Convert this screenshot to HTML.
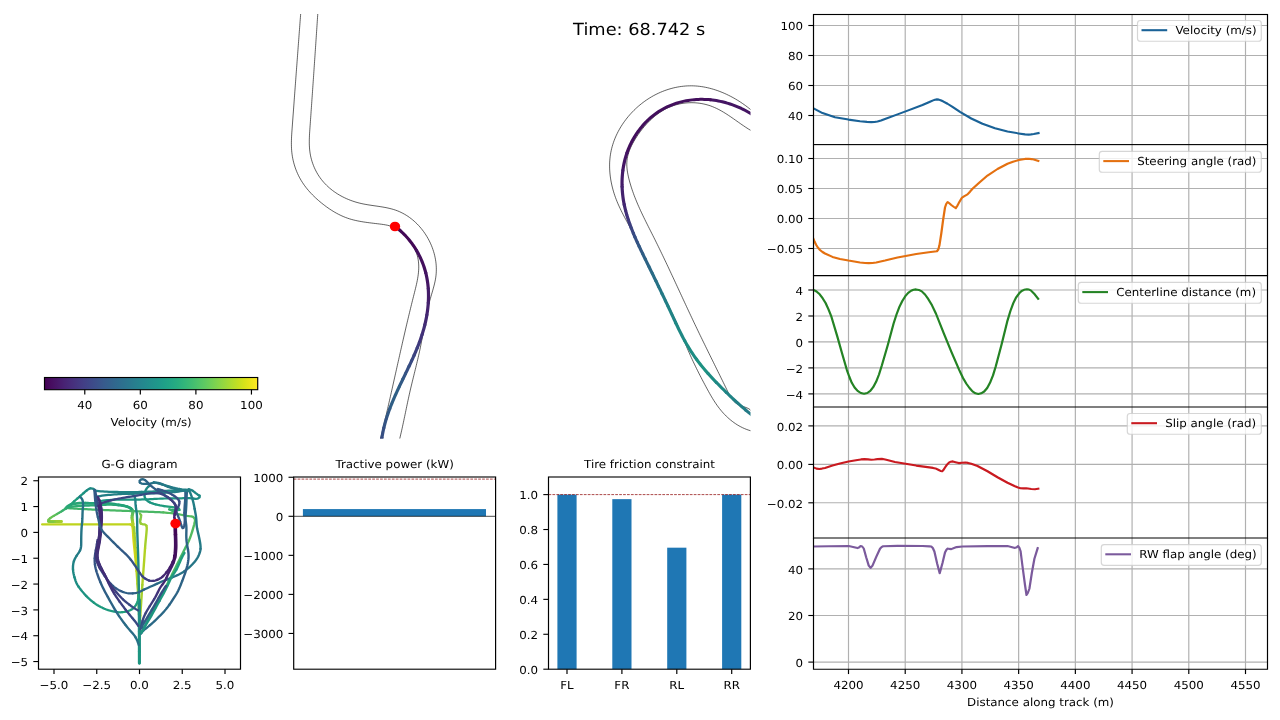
<!DOCTYPE html>
<html lang="en"><head><meta charset="utf-8"><title>Lap simulation</title>
<style>html,body{margin:0;padding:0;background:#fff;width:1280px;height:720px;overflow:hidden}svg{display:block}text{font-family:"DejaVu Sans","Liberation Sans",sans-serif;fill:#000;text-rendering:geometricPrecision}</style>
</head><body>
<svg width="1280" height="720" viewBox="0 0 1280 720">
<rect x="0" y="0" width="1280" height="720" fill="#fff"/>
<g transform="scale(1.0666667,1)">
<defs>
<linearGradient id="vir" x1="0" y1="0" x2="1" y2="0"><stop offset="0%" stop-color="#440154"/><stop offset="3.12%" stop-color="#470d60"/><stop offset="6.25%" stop-color="#48186a"/><stop offset="9.38%" stop-color="#482374"/><stop offset="12.5%" stop-color="#472d7b"/><stop offset="15.62%" stop-color="#453781"/><stop offset="18.75%" stop-color="#424086"/><stop offset="21.88%" stop-color="#3e4989"/><stop offset="25%" stop-color="#3b528b"/><stop offset="28.12%" stop-color="#375b8d"/><stop offset="31.25%" stop-color="#33638d"/><stop offset="34.38%" stop-color="#2f6b8e"/><stop offset="37.5%" stop-color="#2c728e"/><stop offset="40.62%" stop-color="#297a8e"/><stop offset="43.75%" stop-color="#26828e"/><stop offset="46.88%" stop-color="#23898e"/><stop offset="50%" stop-color="#21918c"/><stop offset="53.12%" stop-color="#1f988b"/><stop offset="56.25%" stop-color="#1fa088"/><stop offset="59.38%" stop-color="#22a785"/><stop offset="62.5%" stop-color="#28ae80"/><stop offset="65.62%" stop-color="#32b67a"/><stop offset="68.75%" stop-color="#3fbc73"/><stop offset="71.88%" stop-color="#4ec36b"/><stop offset="75%" stop-color="#5ec962"/><stop offset="78.12%" stop-color="#70cf57"/><stop offset="81.25%" stop-color="#84d44b"/><stop offset="84.38%" stop-color="#98d83e"/><stop offset="87.5%" stop-color="#addc30"/><stop offset="90.62%" stop-color="#c2df23"/><stop offset="93.75%" stop-color="#d8e219"/><stop offset="96.88%" stop-color="#ece51b"/><stop offset="100%" stop-color="#fde725"/></linearGradient>
<clipPath id="cpL"><rect x="245.62" y="14" width="187.5" height="424.5"/></clipPath>
<clipPath id="cpR"><rect x="515.62" y="14" width="187.97" height="424.5"/></clipPath>
<clipPath id="cpGG"><rect x="36.09" y="477" width="189.38" height="192"/></clipPath>
<clipPath id="cpA0"><rect x="762.66" y="14.5" width="425.62" height="130.1"/></clipPath>
<clipPath id="cpA1"><rect x="762.66" y="144.6" width="425.62" height="131"/></clipPath>
<clipPath id="cpA2"><rect x="762.66" y="275.6" width="425.62" height="131.4"/></clipPath>
<clipPath id="cpA3"><rect x="762.66" y="407" width="425.62" height="131"/></clipPath>
<clipPath id="cpA4"><rect x="762.66" y="538" width="425.62" height="131.2"/></clipPath>
</defs>
<text x="599.25" y="35" font-size="16.67" text-anchor="middle" >Time: 68.742 s</text>
<g clip-path="url(#cpL)">
<polyline points="281.91,13.5 281.76,15.51 281.62,17.53 281.48,19.55 281.33,21.56 281.19,23.57 281.05,25.59 280.91,27.6 280.77,29.61 280.62,31.62 280.48,33.63 280.34,35.65 280.2,37.66 280.06,39.67 279.92,41.68 279.77,43.68 279.63,45.69 279.49,47.7 279.35,49.71 279.21,51.72 279.07,53.73 278.93,55.74 278.79,57.74 278.65,59.75 278.51,61.76 278.37,63.76 278.23,65.77 278.08,67.78 277.94,69.79 277.8,71.79 277.66,73.8 277.52,75.81 277.38,77.81 277.24,79.82 277.1,81.83 276.96,83.84 276.82,85.84 276.68,87.85 276.54,89.86 276.4,91.87 276.26,93.88 276.12,95.88 275.98,97.89 275.84,99.9 275.7,101.91 275.57,103.92 275.43,105.93 275.29,107.94 275.15,109.95 275.01,111.97 274.87,113.98 274.73,115.99 274.59,118 274.45,120.02 274.31,122.03 274.17,124.04 274.03,126.06 273.89,128.08 273.75,130.09 273.61,132.11 273.49,134.13 273.38,136.14 273.29,138.16 273.23,140.17 273.19,142.18 273.18,144.2 273.22,146.2 273.29,148.21 273.41,150.21 273.57,152.22 273.8,154.21 274.07,156.2 274.4,158.19 274.79,160.16 275.23,162.13 275.72,164.08 276.27,166.01 276.86,167.93 277.51,169.83 278.21,171.71 278.97,173.56 279.77,175.38 280.62,177.18 281.53,178.95 282.48,180.69 283.48,182.39 284.53,184.06 285.62,185.7 286.75,187.3 287.93,188.88 289.14,190.43 290.39,191.94 291.67,193.43 292.99,194.88 294.34,196.31 295.71,197.71 297.12,199.08 298.54,200.43 299.99,201.74 301.46,203.04 302.95,204.3 304.46,205.54 305.98,206.75 307.53,207.93 309.09,209.07 310.68,210.18 312.28,211.24 313.9,212.27 315.54,213.26 317.2,214.2 318.88,215.09 320.58,215.94 322.3,216.74 324.03,217.48 325.79,218.17 327.57,218.8 329.37,219.37 331.19,219.9 333.02,220.37 334.87,220.81 336.73,221.2 338.6,221.56 340.48,221.9 342.37,222.2 344.27,222.49 346.17,222.75 348.07,223.01 349.98,223.25 351.88,223.5 353.79,223.74 355.69,223.98 357.59,224.24 359.47,224.52 361.33,224.85 363.17,225.23 364.97,225.69 366.74,226.22 368.46,226.86 370.13,227.61 371.74,228.48 373.3,229.47 374.81,230.57 376.27,231.78 377.68,233.08 379.05,234.47 380.37,235.94 381.66,237.48 382.91,239.08 384.11,240.74 385.26,242.46 386.35,244.22 387.37,246.01 388.31,247.84 389.17,249.7 389.93,251.58 390.59,253.46 391.15,255.36 391.61,257.27 391.97,259.19 392.24,261.11 392.43,263.05 392.54,264.98 392.57,266.93 392.54,268.88 392.44,270.84 392.28,272.8 392.07,274.76 391.81,276.73 391.5,278.71 391.16,280.68 390.78,282.66 390.38,284.64 389.95,286.62 389.5,288.61 389.04,290.59 388.57,292.57 388.1,294.55 387.63,296.53 387.16,298.51 386.7,300.49 386.24,302.47 385.78,304.45 385.33,306.42 384.87,308.4 384.42,310.37 383.98,312.34 383.53,314.31 383.09,316.28 382.65,318.25 382.21,320.22 381.77,322.19 381.34,324.16 380.9,326.12 380.47,328.09 380.04,330.05 379.62,332.02 379.19,333.98 378.77,335.95 378.34,337.91 377.92,339.87 377.5,341.83 377.08,343.8 376.67,345.76 376.25,347.72 375.83,349.68 375.42,351.64 375,353.6 374.59,355.56 374.18,357.52 373.77,359.47 373.36,361.43 372.94,363.39 372.53,365.35 372.12,367.31 371.71,369.27 371.3,371.23 370.89,373.19 370.48,375.15 370.07,377.1 369.66,379.06 369.25,381.02 368.84,382.98 368.43,384.94 368.02,386.9 367.61,388.86 367.19,390.82 366.78,392.78 366.36,394.75 365.95,396.71 365.53,398.67 365.11,400.63 364.7,402.6 364.28,404.56 363.86,406.53 363.43,408.49 363.01,410.46 362.58,412.42 362.16,414.39 361.73,416.36 361.3,418.33 360.87,420.3 360.43,422.27 360,424.24 359.56,426.21 359.12,428.19 358.68,430.16 358.23,432.14 357.79,434.11 357.34,436.09 356.88,438.07 356.43,440.05" fill="none" stroke="#000" stroke-width="0.6" stroke-linejoin="round" stroke-linecap="butt" />
<polyline points="297.93,13.49 297.81,15.52 297.68,17.54 297.56,19.56 297.43,21.57 297.31,23.59 297.18,25.6 297.06,27.62 296.93,29.63 296.8,31.64 296.68,33.65 296.55,35.66 296.43,37.66 296.3,39.67 296.17,41.67 296.05,43.68 295.92,45.68 295.79,47.68 295.67,49.69 295.54,51.69 295.41,53.69 295.29,55.69 295.16,57.69 295.03,59.69 294.9,61.68 294.78,63.68 294.65,65.68 294.52,67.68 294.39,69.68 294.26,71.67 294.13,73.67 294.01,75.67 293.88,77.67 293.75,79.66 293.62,81.66 293.49,83.66 293.36,85.66 293.23,87.66 293.1,89.66 292.97,91.66 292.84,93.66 292.71,95.66 292.58,97.66 292.44,99.66 292.31,101.66 292.18,103.67 292.05,105.67 291.92,107.68 291.79,109.68 291.65,111.69 291.52,113.7 291.39,115.71 291.26,117.72 291.12,119.73 290.99,121.74 290.86,123.76 290.72,125.77 290.59,127.79 290.46,129.81 290.33,131.83 290.21,133.85 290.11,135.87 290.04,137.89 289.98,139.9 289.97,141.92 289.98,143.93 290.05,145.93 290.16,147.93 290.32,149.93 290.54,151.92 290.83,153.9 291.18,155.88 291.59,157.84 292.07,159.79 292.61,161.72 293.21,163.63 293.87,165.51 294.59,167.37 295.37,169.2 296.21,171 297.1,172.76 298.05,174.48 299.06,176.16 300.12,177.8 301.23,179.39 302.39,180.94 303.61,182.44 304.87,183.9 306.17,185.31 307.52,186.68 308.91,188 310.34,189.27 311.82,190.5 313.33,191.68 314.87,192.82 316.45,193.91 318.06,194.95 319.7,195.94 321.37,196.89 323.07,197.78 324.79,198.63 326.54,199.43 328.31,200.19 330.1,200.89 331.91,201.54 333.73,202.15 335.58,202.7 337.43,203.21 339.3,203.66 341.18,204.08 343.06,204.45 344.95,204.8 346.85,205.12 348.75,205.43 350.64,205.72 352.54,206.01 354.43,206.31 356.31,206.61 358.19,206.93 360.05,207.27 361.9,207.64 363.74,208.05 365.56,208.5 367.36,208.99 369.14,209.54 370.9,210.16 372.63,210.84 374.33,211.59 376.01,212.41 377.66,213.3 379.28,214.25 380.87,215.26 382.43,216.34 383.95,217.47 385.44,218.66 386.89,219.9 388.31,221.2 389.69,222.55 391.04,223.94 392.34,225.39 393.6,226.87 394.82,228.41 396,229.98 397.14,231.59 398.23,233.24 399.27,234.93 400.27,236.65 401.22,238.4 402.12,240.18 402.98,241.99 403.78,243.82 404.53,245.68 405.22,247.56 405.86,249.47 406.45,251.39 406.98,253.32 407.45,255.27 407.87,257.24 408.22,259.21 408.52,261.19 408.75,263.18 408.92,265.18 409.02,267.18 409.07,269.17 409.04,271.17 408.95,273.17 408.79,275.16 408.56,277.14 408.27,279.12 407.92,281.09 407.51,283.06 407.07,285.02 406.59,286.97 406.08,288.93 405.56,290.88 405.03,292.83 404.49,294.78 403.96,296.73 403.44,298.69 402.94,300.64 402.46,302.6 402,304.56 401.56,306.52 401.13,308.48 400.72,310.45 400.32,312.41 399.94,314.38 399.56,316.35 399.2,318.32 398.84,320.29 398.49,322.26 398.15,324.23 397.81,326.2 397.48,328.17 397.14,330.14 396.81,332.11 396.48,334.08 396.14,336.06 395.8,338.03 395.46,340 395.11,341.96 394.76,343.93 394.39,345.9 394.02,347.86 393.64,349.83 393.24,351.79 392.84,353.75 392.42,355.71 392,357.67 391.58,359.63 391.14,361.59 390.7,363.54 390.26,365.5 389.81,367.45 389.36,369.41 388.91,371.37 388.46,373.32 388.01,375.28 387.56,377.23 387.1,379.19 386.66,381.14 386.21,383.1 385.77,385.05 385.33,387.01 384.9,388.97 384.47,390.93 384.06,392.89 383.64,394.85 383.24,396.81 382.84,398.78 382.44,400.74 382.05,402.7 381.66,404.67 381.28,406.63 380.9,408.6 380.51,410.56 380.13,412.53 379.75,414.49 379.37,416.46 378.98,418.42 378.59,420.39 378.2,422.35 377.81,424.32 377.41,426.28 377.01,428.24 376.6,430.21 376.19,432.17 375.76,434.13 375.33,436.09 374.9,438.05 374.45,440" fill="none" stroke="#000" stroke-width="0.6" stroke-linejoin="round" stroke-linecap="butt" />
</g>
<g clip-path="url(#cpL)">
<polyline points="370.28,226.37 371.8,227.61 373.29,228.89 374.75,230.21" fill="none" stroke="#430f5d" stroke-width="3" stroke-linejoin="round" stroke-linecap="round" />
<polyline points="374.75,230.21 376.18,231.57 377.57,232.97 378.93,234.4 380.25,235.87 381.54,237.38 382.79,238.91 384,240.48 385.18,242.08 386.33,243.71 387.43,245.37 388.5,247.05 389.52,248.76 390.51,250.5" fill="none" stroke="#420856" stroke-width="3" stroke-linejoin="round" stroke-linecap="round" />
<polyline points="390.51,250.5 391.46,252.25 392.37,254.03 393.24,255.84 394.07,257.66 394.85,259.5 395.6,261.36 396.3,263.24 396.96,265.13 397.57,267.03 398.14,268.95 398.67,270.88 399.15,272.82" fill="none" stroke="#430f5d" stroke-width="3" stroke-linejoin="round" stroke-linecap="round" />
<polyline points="399.15,272.82 399.59,274.77 399.98,276.74 400.34,278.71 400.65,280.68 400.92,282.67 401.15,284.66 401.34,286.66 401.49,288.67" fill="none" stroke="#441563" stroke-width="3" stroke-linejoin="round" stroke-linecap="round" />
<polyline points="401.49,288.67 401.6,290.68 401.68,292.69 401.71,294.7 401.72,296.72 401.68,298.74 401.61,300.77 401.51,302.79" fill="none" stroke="#441c69" stroke-width="3" stroke-linejoin="round" stroke-linecap="round" />
<polyline points="401.51,302.79 401.37,304.81 401.2,306.83 401,308.85 400.76,310.86 400.49,312.88 400.2,314.89" fill="none" stroke="#44226e" stroke-width="3" stroke-linejoin="round" stroke-linecap="round" />
<polyline points="400.2,314.89 399.87,316.89 399.51,318.89 399.13,320.88 398.71,322.87 398.27,324.85" fill="none" stroke="#432872" stroke-width="3" stroke-linejoin="round" stroke-linecap="round" />
<polyline points="398.27,324.85 397.81,326.82 397.31,328.78 396.8,330.74 396.25,332.68 395.69,334.61" fill="none" stroke="#422e76" stroke-width="3" stroke-linejoin="round" stroke-linecap="round" />
<polyline points="395.69,334.61 395.1,336.54 394.49,338.45 393.86,340.36 393.21,342.26" fill="none" stroke="#41337a" stroke-width="3" stroke-linejoin="round" stroke-linecap="round" />
<polyline points="393.21,342.26 392.54,344.15 391.85,346.03 391.15,347.91" fill="none" stroke="#3f3a7d" stroke-width="3" stroke-linejoin="round" stroke-linecap="round" />
<polyline points="391.15,347.91 390.43,349.78 389.7,351.65 388.95,353.51 388.19,355.36" fill="none" stroke="#3d407f" stroke-width="3" stroke-linejoin="round" stroke-linecap="round" />
<polyline points="388.19,355.36 387.42,357.21 386.64,359.06 385.85,360.9" fill="none" stroke="#3b4581" stroke-width="3" stroke-linejoin="round" stroke-linecap="round" />
<polyline points="385.85,360.9 385.06,362.74 384.25,364.57 383.44,366.4" fill="none" stroke="#384a82" stroke-width="3" stroke-linejoin="round" stroke-linecap="round" />
<polyline points="383.44,366.4 382.62,368.23 381.8,370.06 380.98,371.89 380.15,373.72" fill="none" stroke="#364f83" stroke-width="3" stroke-linejoin="round" stroke-linecap="round" />
<polyline points="380.15,373.72 379.33,375.54 378.5,377.37 377.67,379.19" fill="none" stroke="#345484" stroke-width="3" stroke-linejoin="round" stroke-linecap="round" />
<polyline points="377.67,379.19 376.85,381.02 376.03,382.84 375.21,384.67 374.4,386.5" fill="none" stroke="#325985" stroke-width="3" stroke-linejoin="round" stroke-linecap="round" />
<polyline points="374.4,386.5 373.59,388.33 372.79,390.16 372,392 371.21,393.84 370.44,395.68 369.68,397.53 368.93,399.38 368.19,401.24 367.47,403.1 366.76,404.97 366.07,406.85 365.4,408.73" fill="none" stroke="#2f5e85" stroke-width="3" stroke-linejoin="round" stroke-linecap="round" />
<polyline points="365.4,408.73 364.74,410.62 364.1,412.51 363.49,414.42 362.89,416.33 362.32,418.25" fill="none" stroke="#325985" stroke-width="3" stroke-linejoin="round" stroke-linecap="round" />
<polyline points="362.32,418.25 361.77,420.18 361.24,422.11 360.74,424.06 360.26,426.02 359.82,427.99" fill="none" stroke="#345484" stroke-width="3" stroke-linejoin="round" stroke-linecap="round" />
<polyline points="359.82,427.99 359.4,429.97 359.01,431.96 358.65,433.96 358.32,435.98 358.03,438" fill="none" stroke="#364f83" stroke-width="3" stroke-linejoin="round" stroke-linecap="round" />
<polyline points="358.03,438 357.76,440.04" fill="none" stroke="#384a82" stroke-width="3" stroke-linejoin="round" stroke-linecap="round" />
</g>
<circle cx="370.31" cy="226.5" r="4.85" fill="#ff0000"/>
<g clip-path="url(#cpR)">
<polyline points="704.88,110.64 703.48,109.39 702.05,108.16 700.6,106.95 699.11,105.76 697.6,104.59 696.06,103.45 694.5,102.32 692.92,101.23 691.31,100.16 689.68,99.12 688.03,98.1 686.35,97.12 684.66,96.17 682.95,95.25 681.23,94.37 679.49,93.52 677.73,92.71 675.96,91.94 674.17,91.2 672.37,90.51 670.57,89.86 668.75,89.25 666.92,88.69 665.08,88.18 663.24,87.71 661.39,87.29 659.54,86.92 657.68,86.6 655.81,86.33 653.95,86.12 652.08,85.96 650.21,85.86 648.35,85.81 646.48,85.83 644.62,85.89 642.76,86.01 640.9,86.19 639.05,86.41 637.2,86.69 635.37,87.03 633.53,87.41 631.71,87.84 629.9,88.33 628.1,88.86 626.31,89.45 624.53,90.08 622.76,90.76 621.01,91.49 619.27,92.26 617.55,93.08 615.85,93.94 614.16,94.85 612.49,95.81 610.85,96.81 609.22,97.85 607.61,98.93 606.03,100.05 604.46,101.22 602.93,102.42 601.41,103.67 599.93,104.95 598.47,106.26 597.04,107.61 595.63,109 594.26,110.42 592.92,111.88 591.61,113.36 590.33,114.88 589.08,116.43 587.87,118 586.7,119.61 585.56,121.24 584.46,122.89 583.4,124.58 582.37,126.28 581.39,128.01 580.45,129.77 579.55,131.54 578.69,133.34 577.87,135.15 577.11,136.98 576.38,138.84 575.71,140.7 575.08,142.59 574.5,144.48 573.96,146.4 573.48,148.32 573.05,150.26 572.68,152.21 572.35,154.17 572.08,156.13 571.87,158.11 571.7,160.09 571.58,162.08 571.52,164.07 571.5,166.07 571.53,168.07 571.6,170.07 571.73,172.07 571.89,174.07 572.1,176.07 572.36,178.07 572.65,180.06 572.99,182.05 573.37,184.03 573.78,186 574.24,187.96 574.73,189.92 575.26,191.86 575.83,193.8 576.42,195.72 577.06,197.62 577.72,199.51 578.42,201.39 579.15,203.25 579.9,205.09 580.68,206.92 581.49,208.74 582.31,210.55 583.15,212.35 584.01,214.15 584.88,215.93 585.76,217.71 586.65,219.49 587.55,221.26 588.45,223.03 589.35,224.8 590.26,226.57 591.16,228.34 592.05,230.11 592.94,231.89 593.81,233.67 594.68,235.46 595.54,237.25 596.39,239.05 597.23,240.85 598.06,242.66 598.89,244.47 599.71,246.28 600.52,248.09 601.34,249.91 602.14,251.73 602.95,253.55 603.75,255.37 604.55,257.19 605.35,259.02 606.15,260.84 606.95,262.66 607.75,264.48 608.55,266.31 609.36,268.13 610.16,269.95 610.98,271.76 611.79,273.58 612.61,275.39 613.44,277.2 614.26,279.01 615.09,280.82 615.92,282.63 616.75,284.43 617.59,286.24 618.42,288.05 619.26,289.85 620.1,291.65 620.94,293.46 621.78,295.26 622.62,297.06 623.46,298.87 624.29,300.67 625.13,302.47 625.97,304.28 626.8,306.08 627.64,307.89 628.47,309.69 629.3,311.5 630.13,313.31 630.95,315.12 631.77,316.93 632.58,318.75 633.38,320.57 634.17,322.39 634.95,324.22 635.72,326.06 636.47,327.9 637.21,329.75 637.93,331.61 638.64,333.47 639.35,335.33 640.05,337.2 640.75,339.07 641.45,340.94 642.15,342.8 642.86,344.66 643.58,346.52 644.31,348.37 645.06,350.22 645.81,352.07 646.57,353.9 647.34,355.74 648.12,357.57 648.91,359.4 649.71,361.22 650.51,363.04 651.33,364.85 652.15,366.66 652.98,368.47 653.82,370.27 654.66,372.07 655.51,373.87 656.37,375.66 657.24,377.45 658.11,379.24 658.98,381.03 659.87,382.81 660.75,384.59 661.65,386.36 662.54,388.14 663.45,389.91 664.36,391.67 665.28,393.43 666.22,395.18 667.17,396.92 668.14,398.64 669.14,400.35 670.16,402.04 671.2,403.7 672.28,405.35 673.39,406.98 674.53,408.57 675.71,410.14 676.93,411.68 678.19,413.19 679.49,414.65 680.82,416.08 682.19,417.47 683.6,418.82 685.04,420.12 686.52,421.37 688.04,422.57 689.59,423.71 691.17,424.8 692.79,425.83 694.44,426.79 696.13,427.69 697.84,428.53 699.6,429.29 701.38,429.98 703.19,430.6 705.04,431.14" fill="none" stroke="#000" stroke-width="0.6" stroke-linejoin="round" stroke-linecap="butt" />
<polyline points="705.01,131.13 703.42,130.14 701.84,129.11 700.27,128.05 698.71,126.96 697.15,125.84 695.59,124.71 694.03,123.55 692.48,122.39 690.92,121.22 689.37,120.04 687.8,118.87 686.23,117.71 684.66,116.56 683.07,115.43 681.48,114.31 679.87,113.23 678.25,112.17 676.62,111.15 674.97,110.17 673.3,109.23 671.61,108.34 669.9,107.51 668.17,106.73 666.42,106.02 664.64,105.37 662.84,104.8 661.01,104.29 659.17,103.86 657.31,103.49 655.44,103.19 653.56,102.96 651.67,102.81 649.77,102.72 647.88,102.7 645.98,102.75 644.09,102.87 642.21,103.06 640.34,103.32 638.48,103.65 636.63,104.05 634.8,104.52 633,105.05 631.22,105.66 629.46,106.34 627.73,107.08 626.03,107.89 624.36,108.77 622.72,109.71 621.1,110.7 619.52,111.76 617.96,112.87 616.44,114.03 614.94,115.24 613.47,116.51 612.03,117.82 610.62,119.17 609.24,120.57 607.89,122.01 606.57,123.49 605.28,125 604.02,126.54 602.79,128.12 601.59,129.73 600.42,131.37 599.29,133.03 598.18,134.71 597.11,136.41 596.06,138.14 595.05,139.88 594.08,141.64 593.16,143.42 592.28,145.21 591.46,147.02 590.71,148.85 590.02,150.7 589.41,152.56 588.88,154.44 588.43,156.34 588.08,158.26 587.83,160.2 587.68,162.15 587.63,164.12 587.67,166.1 587.8,168.09 588,170.09 588.28,172.09 588.61,174.09 588.99,176.09 589.42,178.08 589.89,180.06 590.39,182.04 590.92,183.99 591.47,185.94 592.04,187.88 592.64,189.8 593.26,191.71 593.9,193.61 594.55,195.5 595.23,197.38 595.93,199.26 596.64,201.12 597.37,202.98 598.11,204.82 598.87,206.66 599.63,208.5 600.42,210.33 601.21,212.15 602.01,213.97 602.82,215.78 603.64,217.59 604.47,219.39 605.3,221.19 606.14,222.99 606.99,224.79 607.83,226.59 608.68,228.38 609.53,230.17 610.38,231.97 611.23,233.76 612.08,235.56 612.93,237.35 613.77,239.15 614.61,240.95 615.45,242.75 616.28,244.56 617.11,246.36 617.94,248.17 618.76,249.98 619.58,251.78 620.4,253.6 621.22,255.41 622.04,257.22 622.85,259.04 623.66,260.85 624.47,262.67 625.27,264.49 626.08,266.31 626.88,268.13 627.68,269.95 628.48,271.77 629.28,273.59 630.08,275.42 630.88,277.24 631.67,279.06 632.47,280.89 633.26,282.71 634.06,284.54 634.85,286.37 635.64,288.19 636.44,290.02 637.23,291.85 638.02,293.67 638.82,295.5 639.61,297.33 640.4,299.15 641.2,300.98 641.99,302.81 642.79,304.63 643.58,306.46 644.38,308.28 645.18,310.11 645.98,311.93 646.78,313.76 647.58,315.58 648.39,317.4 649.19,319.22 650,321.05 650.81,322.87 651.62,324.68 652.43,326.5 653.25,328.32 654.06,330.14 654.88,331.95 655.7,333.77 656.52,335.58 657.35,337.39 658.17,339.2 659,341.02 659.83,342.83 660.66,344.64 661.49,346.45 662.32,348.25 663.15,350.06 663.98,351.87 664.81,353.67 665.65,355.48 666.48,357.29 667.31,359.09 668.15,360.89 668.98,362.7 669.82,364.5 670.65,366.3 671.48,368.11 672.32,369.91 673.15,371.71 673.98,373.51 674.81,375.31 675.64,377.11 676.47,378.91 677.3,380.71 678.13,382.51 678.96,384.31 679.78,386.11 680.61,387.91 681.43,389.71 682.25,391.51 683.08,393.3 683.94,395.07 684.86,396.79 685.86,398.45 686.97,400.02 688.21,401.49 689.62,402.83 691.2,404.03 693,405.07 695.02,405.94 697.17,406.71 699.31,407.48 701.31,408.36 703.02,409.45 704.31,410.86 705.03,412.69 705.06,415.06" fill="none" stroke="#000" stroke-width="0.6" stroke-linejoin="round" stroke-linecap="butt" />
</g>
<g clip-path="url(#cpR)">
<polyline points="704.96,114.26 703.35,113.21 701.72,112.19 700.06,111.21 698.39,110.26 696.7,109.35 695,108.47 693.28,107.63 691.54,106.82 689.79,106.06 688.03,105.33 686.25,104.64 684.46,103.99 682.65,103.38 680.84,102.81 679.01,102.28 677.18,101.79 675.34,101.35 673.48,100.95 671.62,100.59 669.75,100.28 667.88,100.01 666,99.78" fill="none" stroke="#441563" stroke-width="3" stroke-linejoin="round" stroke-linecap="round" />
<polyline points="666,99.78 664.11,99.6 662.22,99.47 660.33,99.39 658.44,99.35 656.54,99.36 654.64,99.41 652.75,99.52 650.85,99.67 648.96,99.87 647.08,100.12 645.2,100.42 643.34,100.76 641.48,101.15 639.63,101.59 637.79,102.08 635.97,102.62 634.16,103.21 632.37,103.85 630.6,104.53 628.84,105.27 627.11,106.05 625.4,106.89 623.71,107.77 622.04,108.71 620.4,109.69 618.78,110.72 617.2,111.81 615.64,112.94 614.11,114.12 612.61,115.34 611.14,116.61 609.7,117.92 608.3,119.27 606.92,120.66 605.58,122.09 604.27,123.56 603,125.06 601.76,126.6 600.55,128.17 599.39,129.78 598.26,131.41 597.16,133.08 596.11,134.77 595.09,136.49 594.11,138.23 593.17,140 592.28,141.79 591.42,143.6 590.61,145.44 589.84,147.29 589.11,149.16 588.42,151.04 587.78,152.94" fill="none" stroke="#430f5d" stroke-width="3" stroke-linejoin="round" stroke-linecap="round" />
<polyline points="587.78,152.94 587.19,154.86 586.63,156.79 586.12,158.73 585.65,160.68 585.22,162.64 584.84,164.61 584.49,166.59 584.19,168.58 583.92,170.57" fill="none" stroke="#441563" stroke-width="3" stroke-linejoin="round" stroke-linecap="round" />
<polyline points="583.92,170.57 583.7,172.58 583.51,174.58 583.37,176.59 583.26,178.6 583.19,180.62 583.16,182.63 583.16,184.65 583.21,186.67" fill="none" stroke="#441c69" stroke-width="3" stroke-linejoin="round" stroke-linecap="round" />
<polyline points="583.21,186.67 583.29,188.68 583.41,190.69 583.56,192.7 583.75,194.7 583.97,196.7 584.23,198.69 584.52,200.68 584.85,202.65 585.21,204.62" fill="none" stroke="#44226e" stroke-width="3" stroke-linejoin="round" stroke-linecap="round" />
<polyline points="585.21,204.62 585.6,206.58 586.02,208.54 586.48,210.48" fill="none" stroke="#432872" stroke-width="3" stroke-linejoin="round" stroke-linecap="round" />
<polyline points="586.48,210.48 586.96,212.42 587.46,214.36" fill="none" stroke="#422e76" stroke-width="3" stroke-linejoin="round" stroke-linecap="round" />
<polyline points="587.46,214.36 588,216.28 588.56,218.21 589.14,220.12" fill="none" stroke="#41337a" stroke-width="3" stroke-linejoin="round" stroke-linecap="round" />
<polyline points="589.14,220.12 589.74,222.03 590.37,223.93" fill="none" stroke="#3f3a7d" stroke-width="3" stroke-linejoin="round" stroke-linecap="round" />
<polyline points="590.37,223.93 591.02,225.83 591.69,227.72" fill="none" stroke="#3d407f" stroke-width="3" stroke-linejoin="round" stroke-linecap="round" />
<polyline points="591.69,227.72 592.37,229.6 593.08,231.48 593.8,233.36" fill="none" stroke="#3b4581" stroke-width="3" stroke-linejoin="round" stroke-linecap="round" />
<polyline points="593.8,233.36 594.53,235.23 595.28,237.09" fill="none" stroke="#384a82" stroke-width="3" stroke-linejoin="round" stroke-linecap="round" />
<polyline points="595.28,237.09 596.04,238.96 596.82,240.81 597.6,242.66" fill="none" stroke="#364f83" stroke-width="3" stroke-linejoin="round" stroke-linecap="round" />
<polyline points="597.6,242.66 598.4,244.51 599.2,246.36" fill="none" stroke="#345484" stroke-width="3" stroke-linejoin="round" stroke-linecap="round" />
<polyline points="599.2,246.36 600.01,248.2 600.83,250.04 601.65,251.87 602.48,253.7" fill="none" stroke="#325985" stroke-width="3" stroke-linejoin="round" stroke-linecap="round" />
<polyline points="602.48,253.7 603.31,255.53 604.14,257.35 604.97,259.18" fill="none" stroke="#2f5e85" stroke-width="3" stroke-linejoin="round" stroke-linecap="round" />
<polyline points="604.97,259.18 605.8,261 606.63,262.81 607.46,264.63 608.29,266.44" fill="none" stroke="#2d6385" stroke-width="3" stroke-linejoin="round" stroke-linecap="round" />
<polyline points="608.29,266.44 609.12,268.25 609.95,270.06 610.78,271.87 611.6,273.68" fill="none" stroke="#2b6886" stroke-width="3" stroke-linejoin="round" stroke-linecap="round" />
<polyline points="611.6,273.68 612.43,275.49 613.25,277.29 614.07,279.1 614.9,280.91" fill="none" stroke="#296c86" stroke-width="3" stroke-linejoin="round" stroke-linecap="round" />
<polyline points="614.9,280.91 615.72,282.71 616.54,284.52 617.35,286.32" fill="none" stroke="#277186" stroke-width="3" stroke-linejoin="round" stroke-linecap="round" />
<polyline points="617.35,286.32 618.17,288.13 618.99,289.94 619.8,291.75 620.62,293.56" fill="none" stroke="#257586" stroke-width="3" stroke-linejoin="round" stroke-linecap="round" />
<polyline points="620.62,293.56 621.43,295.37 622.24,297.18 623.05,298.99 623.85,300.81" fill="none" stroke="#247a86" stroke-width="3" stroke-linejoin="round" stroke-linecap="round" />
<polyline points="623.85,300.81 624.66,302.63 625.47,304.45 626.27,306.27" fill="none" stroke="#227e85" stroke-width="3" stroke-linejoin="round" stroke-linecap="round" />
<polyline points="626.27,306.27 627.07,308.1 627.87,309.93 628.67,311.76 629.47,313.6 630.26,315.44 631.06,317.27 631.86,319.11 632.67,320.95 633.47,322.78" fill="none" stroke="#208385" stroke-width="3" stroke-linejoin="round" stroke-linecap="round" />
<polyline points="633.47,322.78 634.29,324.61 635.1,326.44 635.93,328.27 636.76,330.09 637.59,331.9 638.44,333.71 639.3,335.51 640.18,337.3 641.06,339.08 641.97,340.85" fill="none" stroke="#1f8884" stroke-width="3" stroke-linejoin="round" stroke-linecap="round" />
<polyline points="641.97,340.85 642.89,342.6 643.83,344.35 644.78,346.08 645.76,347.8 646.75,349.5 647.76,351.19 648.78,352.87 649.83,354.54 650.89,356.19 651.97,357.83 653.08,359.46" fill="none" stroke="#1d8c83" stroke-width="3" stroke-linejoin="round" stroke-linecap="round" />
<polyline points="653.08,359.46 654.19,361.08 655.33,362.68 656.49,364.26 657.67,365.84 658.86,367.4 660.07,368.94 661.3,370.48 662.54,372 663.8,373.52" fill="none" stroke="#1d9182" stroke-width="3" stroke-linejoin="round" stroke-linecap="round" />
<polyline points="663.8,373.52 665.06,375.02 666.34,376.51 667.63,378 668.93,379.47 670.24,380.94 671.56,382.4" fill="none" stroke="#1d8c83" stroke-width="3" stroke-linejoin="round" stroke-linecap="round" />
<polyline points="671.56,382.4 672.88,383.85 674.21,385.29 675.55,386.73 676.89,388.16 678.23,389.59 679.58,391.01 680.93,392.42" fill="none" stroke="#1f8884" stroke-width="3" stroke-linejoin="round" stroke-linecap="round" />
<polyline points="680.93,392.42 682.29,393.82 683.65,395.22 685.02,396.61 686.4,397.99 687.78,399.36 689.17,400.73" fill="none" stroke="#208385" stroke-width="3" stroke-linejoin="round" stroke-linecap="round" />
<polyline points="689.17,400.73 690.57,402.09 691.97,403.43 693.39,404.77 694.81,406.1 696.23,407.41 697.67,408.72 699.12,410.02" fill="none" stroke="#227e85" stroke-width="3" stroke-linejoin="round" stroke-linecap="round" />
<polyline points="699.12,410.02 700.57,411.31 702.03,412.58 703.51,413.84 704.99,415.1" fill="none" stroke="#247a86" stroke-width="3" stroke-linejoin="round" stroke-linecap="round" />
</g>
<rect x="41.72" y="377.5" width="199.88" height="12.2" fill="url(#vir)"/>
<rect x="41.72" y="377.5" width="199.88" height="12.2" fill="none" stroke="#000" stroke-width="1.11" stroke-linejoin="miter"/>
<line x1="79.48" y1="389.7" x2="79.48" y2="394.56" stroke="#000" stroke-width="1.11" />
<text x="79.48" y="409" font-size="11.11" text-anchor="middle" >40</text>
<line x1="131.56" y1="389.7" x2="131.56" y2="394.56" stroke="#000" stroke-width="1.11" />
<text x="131.56" y="409" font-size="11.11" text-anchor="middle" >60</text>
<line x1="183.65" y1="389.7" x2="183.65" y2="394.56" stroke="#000" stroke-width="1.11" />
<text x="183.65" y="409" font-size="11.11" text-anchor="middle" >80</text>
<line x1="235.73" y1="389.7" x2="235.73" y2="394.56" stroke="#000" stroke-width="1.11" />
<text x="235.73" y="409" font-size="11.11" text-anchor="middle" >100</text>
<text x="141.66" y="426" font-size="11.11" text-anchor="middle" >Velocity (m/s)</text>
<g clip-path="url(#cpGG)">
<polyline points="39.56,524.4 42.32,524.4 45.07,524.4 47.82,524.4 50.58,524.4 53.33,524.4 56.08,524.4 58.83,524.4 61.59,524.4 64.34,524.4 67.09,524.4 69.85,524.4 72.6,524.4 75.35,524.4 78.11,524.4 80.86,524.4 83.61,524.4 86.37,524.4 89.12,524.4 91.87,524.4 94.62,524.4 97.38,524.4 100.13,524.4 102.88,524.4 105.64,524.4 108.39,524.4 111.14,524.4 113.9,524.4 116.65,524.4 119.4,524.4 122.16,524.4" fill="none" stroke="#bed31d" stroke-width="2.25" stroke-linejoin="round" stroke-linecap="round" />
<polyline points="122.16,524.4 123.76,525.51 124.32,527.54 124.58,529.67 124.73,531.75" fill="none" stroke="#cbd518" stroke-width="2.25" stroke-linejoin="round" stroke-linecap="round" />
<polyline points="124.73,531.75 124.82,533.8 124.92,535.86 125.05,537.94 125.21,540.02 125.39,542.11 125.57,544.2 125.77,546.29 125.97,548.37 126.17,550.44 126.37,552.52 126.58,554.6 126.78,556.67" fill="none" stroke="#d7d617" stroke-width="2.25" stroke-linejoin="round" stroke-linecap="round" />
<polyline points="126.78,556.67 126.98,558.74 127.17,560.82 127.35,562.89 127.53,564.97 127.7,567.05 127.86,569.13 128.02,571.21" fill="none" stroke="#cbd518" stroke-width="2.25" stroke-linejoin="round" stroke-linecap="round" />
<polyline points="128.02,571.21 128.16,573.29 128.31,575.38 128.45,577.46 128.59,579.55 128.72,581.63 128.85,583.72" fill="none" stroke="#bed31d" stroke-width="2.25" stroke-linejoin="round" stroke-linecap="round" />
<polyline points="128.85,583.72 128.99,585.8 129.12,587.88 129.25,589.97 129.39,592.05 129.51,594.14" fill="none" stroke="#b2d124" stroke-width="2.25" stroke-linejoin="round" stroke-linecap="round" />
<polyline points="129.51,594.14 129.64,596.22 129.75,598.3 129.86,600.39 129.96,602.47 130.06,604.56" fill="none" stroke="#a5cf2c" stroke-width="2.25" stroke-linejoin="round" stroke-linecap="round" />
<polyline points="130.06,604.56 130.14,606.65 130.2,608.73 130.26,610.82 130.29,612.91 130.31,615" fill="none" stroke="#99cd34" stroke-width="2.25" stroke-linejoin="round" stroke-linecap="round" />
<polyline points="125.81,527 125.89,529.09 125.98,531.18 126.09,533.26" fill="none" stroke="#99cd34" stroke-width="2.25" stroke-linejoin="round" stroke-linecap="round" />
<polyline points="126.09,533.26 126.21,535.35 126.34,537.43 126.47,539.52 126.61,541.6" fill="none" stroke="#a5cf2c" stroke-width="2.25" stroke-linejoin="round" stroke-linecap="round" />
<polyline points="126.61,541.6 126.75,543.69 126.9,545.77 127.04,547.86" fill="none" stroke="#b2d124" stroke-width="2.25" stroke-linejoin="round" stroke-linecap="round" />
<polyline points="127.04,547.86 127.18,549.94 127.32,552.03 127.46,554.11 127.6,556.2 127.73,558.28 127.86,560.37 128,562.45 128.13,564.54 128.26,566.62" fill="none" stroke="#bed31d" stroke-width="2.25" stroke-linejoin="round" stroke-linecap="round" />
<polyline points="128.26,566.62 128.38,568.71 128.51,570.79 128.63,572.88 128.75,574.96 128.87,577.05" fill="none" stroke="#b2d124" stroke-width="2.25" stroke-linejoin="round" stroke-linecap="round" />
<polyline points="128.87,577.05 128.99,579.14 129.11,581.22 129.23,583.31 129.34,585.39 129.46,587.48 129.57,589.57" fill="none" stroke="#a5cf2c" stroke-width="2.25" stroke-linejoin="round" stroke-linecap="round" />
<polyline points="129.57,589.57 129.68,591.65 129.79,593.74 129.9,595.83 130.02,597.91 130.12,600" fill="none" stroke="#99cd34" stroke-width="2.25" stroke-linejoin="round" stroke-linecap="round" />
<polyline points="45.47,521.5 47.87,521.48 50.27,521.46 52.67,521.44" fill="none" stroke="#99cd34" stroke-width="3" stroke-linejoin="round" stroke-linecap="round" />
<polyline points="52.67,521.44 55.07,521.42 57.47,521.4" fill="none" stroke="#a5cf2c" stroke-width="3" stroke-linejoin="round" stroke-linecap="round" />
<polyline points="131.16,513.5 132.25,515.2" fill="none" stroke="#72c54c" stroke-width="2.25" stroke-linejoin="round" stroke-linecap="round" />
<polyline points="132.25,515.2 132.15,517.3 131.6,519.55" fill="none" stroke="#7ec845" stroke-width="2.25" stroke-linejoin="round" stroke-linecap="round" />
<polyline points="131.6,519.55 131.32,521.74 132.03,523.62" fill="none" stroke="#8ccb3c" stroke-width="2.25" stroke-linejoin="round" stroke-linecap="round" />
<polyline points="132.03,523.62 133.74,524.3 135.73,524.35 137.25,525.53" fill="none" stroke="#99cd34" stroke-width="2.25" stroke-linejoin="round" stroke-linecap="round" />
<polyline points="137.25,525.53 137.56,527.6 137.53,529.65 137.38,531.68 137.22,533.71 137.03,535.75 136.85,537.8 136.66,539.85 136.48,541.9 136.3,543.95 136.14,546 135.99,548.05" fill="none" stroke="#a5cf2c" stroke-width="2.25" stroke-linejoin="round" stroke-linecap="round" />
<polyline points="135.99,548.05 135.84,550.1 135.7,552.15 135.57,554.19 135.44,556.24 135.3,558.29 135.17,560.33 135.03,562.38 134.88,564.43 134.74,566.47 134.59,568.52 134.45,570.57 134.3,572.62 134.16,574.67 134.01,576.72 133.87,578.76 133.73,580.81 133.59,582.86 133.45,584.91" fill="none" stroke="#b2d124" stroke-width="2.25" stroke-linejoin="round" stroke-linecap="round" />
<polyline points="133.45,584.91 133.32,586.96 133.19,589.01 133.06,591.05 132.93,593.1 132.8,595.15 132.68,597.2 132.55,599.25 132.42,601.3 132.29,603.35 132.16,605.4 132.03,607.45 131.89,609.5 131.76,611.54 131.63,613.59 131.5,615.64" fill="none" stroke="#a5cf2c" stroke-width="2.25" stroke-linejoin="round" stroke-linecap="round" />
<polyline points="131.5,615.64 131.38,617.69 131.26,619.74 131.16,621.79 131.07,623.84 130.99,625.89 130.92,627.95 130.88,630" fill="none" stroke="#99cd34" stroke-width="2.25" stroke-linejoin="round" stroke-linecap="round" />
<polyline points="62.16,508.1 64.06,508.23 65.96,508.35 67.85,508.47 69.75,508.59 71.65,508.71 73.54,508.82 75.44,508.93 77.33,509.03 79.22,509.14 81.11,509.24 83,509.34 84.89,509.44 86.78,509.53 88.67,509.62 90.56,509.71 92.45,509.8" fill="none" stroke="#40b36a" stroke-width="2.25" stroke-linejoin="round" stroke-linecap="round" />
<polyline points="92.45,509.8 94.34,509.89 96.22,509.98 98.11,510.06 100,510.15 101.88,510.23 103.77,510.31 105.66,510.39 107.55,510.47 109.44,510.55 111.32,510.62 113.21,510.7 115.1,510.78 116.99,510.85 118.88,510.93 120.77,511 122.67,511.08 124.56,511.15 126.45,511.23 128.35,511.31 130.24,511.38 132.14,511.46 134.04,511.54 135.94,511.62 137.84,511.69 139.74,511.77 141.65,511.86 143.55,511.94 145.46,512.03 147.36,512.13 149.26,512.23 151.16,512.35 153.06,512.49" fill="none" stroke="#49b765" stroke-width="2.25" stroke-linejoin="round" stroke-linecap="round" />
<polyline points="153.06,512.49 154.96,512.64 156.85,512.81 158.73,513 160.61,513.22 162.48,513.46 164.34,513.74 166.2,514.04 168.05,514.38 169.89,514.75 171.73,515.13 173.58,515.5 175.46,515.83 177.37,516.11 179.3,516.34 181.1,516.92 182.43,518.37 182.87,520.31 182.6,522.37 182.13,524.35 181.61,526.28 181.09,528.21 180.56,530.15 180.01,532.09 179.43,534.02 178.82,535.94 178.16,537.83 177.47,539.71 176.73,541.57 175.94,543.41 175.11,545.22 174.25,547.02" fill="none" stroke="#52bb5f" stroke-width="2.25" stroke-linejoin="round" stroke-linecap="round" />
<polyline points="174.25,547.02 173.38,548.82 172.5,550.61 171.64,552.41 170.78,554.21 169.93,556.02 169.09,557.83 168.26,559.64 167.41,561.45 166.57,563.26 165.72,565.07 164.87,566.88 164.03,568.68 163.18,570.49 162.33,572.3 161.49,574.1 160.64,575.91 159.8,577.72 158.95,579.53 158.11,581.34" fill="none" stroke="#49b765" stroke-width="2.25" stroke-linejoin="round" stroke-linecap="round" />
<polyline points="158.11,581.34 157.26,583.15 156.41,584.95 155.55,586.75 154.69,588.55 153.82,590.35" fill="none" stroke="#40b36a" stroke-width="2.25" stroke-linejoin="round" stroke-linecap="round" />
<polyline points="153.82,590.35 152.95,592.14 152.07,593.93 151.18,595.72 150.29,597.5 149.4,599.28 148.5,601.06" fill="none" stroke="#38b06e" stroke-width="2.25" stroke-linejoin="round" stroke-linecap="round" />
<polyline points="148.5,601.06 147.59,602.84 146.68,604.61 145.77,606.38 144.85,608.15 143.93,609.91" fill="none" stroke="#2fab73" stroke-width="2.25" stroke-linejoin="round" stroke-linecap="round" />
<polyline points="143.93,609.91 143.02,611.68 142.1,613.45 141.18,615.22 140.27,616.99 139.37,618.76" fill="none" stroke="#29a676" stroke-width="2.25" stroke-linejoin="round" stroke-linecap="round" />
<polyline points="139.37,618.76 138.46,620.54 137.57,622.32 136.67,624.1 135.78,625.88 134.88,627.66" fill="none" stroke="#24a279" stroke-width="2.25" stroke-linejoin="round" stroke-linecap="round" />
<polyline points="134.88,627.66 133.99,629.45 133.09,631.22 132.19,633" fill="none" stroke="#209e7c" stroke-width="2.25" stroke-linejoin="round" stroke-linecap="round" />
<polyline points="61.88,508 63.29,506.51 64.91,505.37 66.68,504.55 68.56,503.96 70.48,503.57 72.42,503.32 74.36,503.17 76.3,503.11 78.25,503.12 80.2,503.17" fill="none" stroke="#29a676" stroke-width="2.8" stroke-linejoin="round" stroke-linecap="round" />
<polyline points="80.2,503.17 82.14,503.23 84.09,503.29 86.04,503.33 87.98,503.34 89.93,503.33 91.87,503.32 93.82,503.3 95.76,503.29 97.71,503.31 99.65,503.36" fill="none" stroke="#24a279" stroke-width="2.8" stroke-linejoin="round" stroke-linecap="round" />
<polyline points="99.65,503.36 101.6,503.47 103.53,503.64 105.46,503.89 107.39,504.19 109.31,504.52 111.22,504.88" fill="none" stroke="#209e7c" stroke-width="2.8" stroke-linejoin="round" stroke-linecap="round" />
<polyline points="111.22,504.88 113.14,505.23 115.06,505.58" fill="none" stroke="#24a279" stroke-width="2.8" stroke-linejoin="round" stroke-linecap="round" />
<polyline points="115.06,505.58 116.96,505.99 118.85,506.52" fill="none" stroke="#29a676" stroke-width="2.8" stroke-linejoin="round" stroke-linecap="round" />
<polyline points="118.85,506.52 120.69,507.22 122.45,508.2" fill="none" stroke="#2fab73" stroke-width="2.8" stroke-linejoin="round" stroke-linecap="round" />
<polyline points="122.45,508.2 123.84,509.64" fill="none" stroke="#38b06e" stroke-width="2.8" stroke-linejoin="round" stroke-linecap="round" />
<polyline points="123.84,509.64 124.56,511.59" fill="none" stroke="#40b36a" stroke-width="2.8" stroke-linejoin="round" stroke-linecap="round" />
<polyline points="124.56,511.59 124.39,513.64" fill="none" stroke="#49b765" stroke-width="2.8" stroke-linejoin="round" stroke-linecap="round" />
<polyline points="124.39,513.64 123.91,515.67" fill="none" stroke="#5dbe59" stroke-width="2.8" stroke-linejoin="round" stroke-linecap="round" />
<polyline points="123.91,515.67 123.79,517.73" fill="none" stroke="#67c253" stroke-width="2.8" stroke-linejoin="round" stroke-linecap="round" />
<polyline points="123.79,517.73 124,519.82" fill="none" stroke="#7ec845" stroke-width="2.8" stroke-linejoin="round" stroke-linecap="round" />
<polyline points="124,519.82 124.35,521.9" fill="none" stroke="#8ccb3c" stroke-width="2.8" stroke-linejoin="round" stroke-linecap="round" />
<polyline points="124.35,521.9 124.64,523.97" fill="none" stroke="#a5cf2c" stroke-width="2.8" stroke-linejoin="round" stroke-linecap="round" />
<polyline points="124.64,523.97 124.69,526" fill="none" stroke="#b2d124" stroke-width="2.8" stroke-linejoin="round" stroke-linecap="round" />
<polyline points="62.16,508 64.04,507.46 65.94,507.02 67.84,506.66 69.76,506.37 71.68,506.15 73.61,505.98 75.54,505.85 77.48,505.75" fill="none" stroke="#2fab73" stroke-width="2.25" stroke-linejoin="round" stroke-linecap="round" />
<polyline points="77.48,505.75 79.42,505.68 81.36,505.61 83.3,505.54 85.24,505.46 87.17,505.37 89.11,505.26 91.04,505.15 92.98,505.04 94.91,504.94 96.85,504.84 98.79,504.77 100.73,504.72 102.66,504.7 104.6,504.72 106.53,504.78 108.46,504.88" fill="none" stroke="#29a676" stroke-width="2.25" stroke-linejoin="round" stroke-linecap="round" />
<polyline points="108.46,504.88 110.39,505.03 112.33,505.23 114.28,505.47 116.22,505.8 118.12,506.27 119.95,506.93 121.68,507.82 123.28,509" fill="none" stroke="#24a279" stroke-width="2.25" stroke-linejoin="round" stroke-linecap="round" />
<polyline points="57.47,521.4 55.22,521.12" fill="none" stroke="#a5cf2c" stroke-width="2.25" stroke-linejoin="round" stroke-linecap="round" />
<polyline points="55.22,521.12 53.31,521.27 51.54,521.6" fill="none" stroke="#99cd34" stroke-width="2.25" stroke-linejoin="round" stroke-linecap="round" />
<polyline points="51.54,521.6 49.76,521.87" fill="none" stroke="#8ccb3c" stroke-width="2.25" stroke-linejoin="round" stroke-linecap="round" />
<polyline points="49.76,521.87 47.77,521.8 45.47,521.16" fill="none" stroke="#7ec845" stroke-width="2.25" stroke-linejoin="round" stroke-linecap="round" />
<polyline points="45.47,521.16 45.25,519.76 47.08,518.2" fill="none" stroke="#72c54c" stroke-width="2.25" stroke-linejoin="round" stroke-linecap="round" />
<polyline points="47.08,518.2 48.79,516.92 50.41,515.84" fill="none" stroke="#67c253" stroke-width="2.25" stroke-linejoin="round" stroke-linecap="round" />
<polyline points="50.41,515.84 51.99,514.86 53.59,513.91" fill="none" stroke="#5dbe59" stroke-width="2.25" stroke-linejoin="round" stroke-linecap="round" />
<polyline points="53.59,513.91 55.24,512.9" fill="none" stroke="#52bb5f" stroke-width="2.25" stroke-linejoin="round" stroke-linecap="round" />
<polyline points="55.24,512.9 56.93,511.83" fill="none" stroke="#49b765" stroke-width="2.25" stroke-linejoin="round" stroke-linecap="round" />
<polyline points="56.93,511.83 58.63,510.7" fill="none" stroke="#40b36a" stroke-width="2.25" stroke-linejoin="round" stroke-linecap="round" />
<polyline points="58.63,510.7 60.31,509.51 61.95,508.27" fill="none" stroke="#38b06e" stroke-width="2.25" stroke-linejoin="round" stroke-linecap="round" />
<polyline points="61.95,508.27 63.53,506.96" fill="none" stroke="#2fab73" stroke-width="2.25" stroke-linejoin="round" stroke-linecap="round" />
<polyline points="63.53,506.96 65.05,505.61 66.54,504.22" fill="none" stroke="#29a676" stroke-width="2.25" stroke-linejoin="round" stroke-linecap="round" />
<polyline points="66.54,504.22 68,502.82 69.47,501.41" fill="none" stroke="#24a279" stroke-width="2.25" stroke-linejoin="round" stroke-linecap="round" />
<polyline points="69.47,501.41 70.94,500.02 72.43,498.62" fill="none" stroke="#209e7c" stroke-width="2.25" stroke-linejoin="round" stroke-linecap="round" />
<polyline points="72.43,498.62 73.92,497.24 75.41,495.85" fill="none" stroke="#1e9a7e" stroke-width="2.25" stroke-linejoin="round" stroke-linecap="round" />
<polyline points="75.41,495.85 76.89,494.46 78.37,493.07" fill="none" stroke="#1d9580" stroke-width="2.25" stroke-linejoin="round" stroke-linecap="round" />
<polyline points="78.37,493.07 79.86,491.69 81.4,490.37" fill="none" stroke="#1d9182" stroke-width="2.25" stroke-linejoin="round" stroke-linecap="round" />
<polyline points="81.4,490.37 83.02,489.12 84.84,488.34" fill="none" stroke="#1d8c83" stroke-width="2.25" stroke-linejoin="round" stroke-linecap="round" />
<polyline points="84.84,488.34 86.81,488.53 88.45,489.68" fill="none" stroke="#1f8884" stroke-width="2.25" stroke-linejoin="round" stroke-linecap="round" />
<polyline points="88.45,489.68 90,491" fill="none" stroke="#208385" stroke-width="2.25" stroke-linejoin="round" stroke-linecap="round" />
<polyline points="140.57,485.54 139.08,486.57" fill="none" stroke="#208385" stroke-width="2.25" stroke-linejoin="round" stroke-linecap="round" />
<polyline points="139.08,486.57 137.75,488.12 136.66,490.05 135.88,492.2" fill="none" stroke="#1f8884" stroke-width="2.25" stroke-linejoin="round" stroke-linecap="round" />
<polyline points="135.88,492.2 135.48,494.42 135.52,496.54 136.07,498.43" fill="none" stroke="#1d8c83" stroke-width="2.25" stroke-linejoin="round" stroke-linecap="round" />
<polyline points="136.07,498.43 137.13,499.99 138.59,501.27 140.33,502.32" fill="none" stroke="#1d9182" stroke-width="2.25" stroke-linejoin="round" stroke-linecap="round" />
<polyline points="140.33,502.32 142.24,503.17 144.21,503.88 146.16,504.47" fill="none" stroke="#1d9580" stroke-width="2.25" stroke-linejoin="round" stroke-linecap="round" />
<polyline points="146.16,504.47 148.1,504.96 150.03,505.37 151.95,505.72 153.87,506.02" fill="none" stroke="#1e9a7e" stroke-width="2.25" stroke-linejoin="round" stroke-linecap="round" />
<polyline points="153.87,506.02 155.79,506.3 157.73,506.57 159.68,506.85 161.66,507.16" fill="none" stroke="#209e7c" stroke-width="2.25" stroke-linejoin="round" stroke-linecap="round" />
<polyline points="161.66,507.16 163.66,507.53 165.71,507.96 167.68,508.55" fill="none" stroke="#24a279" stroke-width="2.25" stroke-linejoin="round" stroke-linecap="round" />
<polyline points="167.68,508.55 168.37,509.93 166.51,510.19 164.66,510.46" fill="none" stroke="#29a676" stroke-width="2.25" stroke-linejoin="round" stroke-linecap="round" />
<polyline points="164.66,510.46 162.69,510.1 160.71,509.75 158.74,509.39" fill="none" stroke="#2fab73" stroke-width="2.25" stroke-linejoin="round" stroke-linecap="round" />
<polyline points="158.74,509.39 160.46,510.4 162.19,511.4" fill="none" stroke="#38b06e" stroke-width="2.25" stroke-linejoin="round" stroke-linecap="round" />
<polyline points="94.69,501 96.6,500.7 98.52,500.44 100.44,500.23 102.36,500.06 104.29,499.92 106.21,499.82 108.14,499.74 110.07,499.68 112,499.64 113.94,499.62 115.87,499.61 117.8,499.6 119.73,499.6 121.67,499.59 123.6,499.59 125.53,499.58 127.46,499.57 129.39,499.55 131.32,499.52 133.25,499.48 135.18,499.43 137.11,499.37 139.04,499.29 140.97,499.19 142.89,499.09 144.82,498.97 146.75,498.86 148.68,498.75 150.61,498.65 152.54,498.56 154.47,498.5 156.4,498.45 158.34,498.43 160.27,498.41 162.21,498.41 164.14,498.4 166.07,498.38 167.99,498.35 169.92,498.3 171.83,498.23 173.75,498.17" fill="none" stroke="#1d9580" stroke-width="2.25" stroke-linejoin="round" stroke-linecap="round" />
<polyline points="173.75,498.17 175.67,498.14 177.6,498.18 179.55,498.32 181.51,498.59" fill="none" stroke="#1d9182" stroke-width="2.25" stroke-linejoin="round" stroke-linecap="round" />
<polyline points="181.51,498.59 183.48,498.83 185.39,498.55 187.14,497.27 187.09,495.69" fill="none" stroke="#1d8c83" stroke-width="2.25" stroke-linejoin="round" stroke-linecap="round" />
<polyline points="187.09,495.69 185.16,494.46 183.47,493.2 182.05,491.93 180.65,490.79" fill="none" stroke="#1f8884" stroke-width="2.25" stroke-linejoin="round" stroke-linecap="round" />
<polyline points="180.65,490.79 179.05,489.87 177,489.3" fill="none" stroke="#208385" stroke-width="2.25" stroke-linejoin="round" stroke-linecap="round" />
<polyline points="88.78,490.55 90.68,490.82 92.58,491.06 94.48,491.26 96.4,491.42 98.31,491.56 100.23,491.68 102.15,491.77 104.08,491.84 106,491.9 107.93,491.95 109.85,491.98 111.78,492.01 113.7,492.04 115.62,492.05 117.54,492.07 119.46,492.07 121.38,492.07 123.3,492.06 125.22,492.05 127.14,492.03 129.06,492 130.97,491.96 132.89,491.92" fill="none" stroke="#208385" stroke-width="2.25" stroke-linejoin="round" stroke-linecap="round" />
<polyline points="132.89,491.92 134.81,491.86 136.73,491.8 138.65,491.73 140.56,491.65 142.48,491.56 144.4,491.46 146.32,491.36 148.24,491.25 150.17,491.14 152.09,491.03 154.01,490.92 155.93,490.81 157.85,490.7 159.77,490.6 161.69,490.51 163.61,490.42 165.53,490.35 167.45,490.29 169.37,490.24 171.28,490.2 173.2,490.17 175.11,490.01 177,489.56" fill="none" stroke="#1f8884" stroke-width="2.25" stroke-linejoin="round" stroke-linecap="round" />
<polyline points="91.87,496.35 93.79,496.02 95.72,495.72 97.64,495.44 99.57,495.2 101.5,494.97 103.43,494.77 105.36,494.59 107.29,494.43 109.23,494.29 111.16,494.17 113.1,494.06 115.04,493.97 116.98,493.89 118.92,493.82 120.86,493.76 122.81,493.71 124.75,493.66 126.69,493.62 128.64,493.59 130.58,493.56 132.52,493.52 134.47,493.49 136.41,493.46 138.36,493.42 140.3,493.38 142.24,493.34 144.19,493.28 146.13,493.22 148.07,493.15 150.01,493.06 151.95,492.96 153.89,492.85 155.82,492.72 157.76,492.57 159.69,492.41 161.63,492.22 163.56,492.01 165.49,491.78 167.41,491.53 169.34,491.25 171.26,490.94 173.18,490.6 175.1,490.23 177.02,489.83" fill="none" stroke="#227e85" stroke-width="2.25" stroke-linejoin="round" stroke-linecap="round" />
<polyline points="120,493.8 121.99,493.45 123.83,494.05 125.33,495.33 126.31,497.02 126.79,498.95 126.96,501.02 127.02,503.14 127.15,505.23 127.37,507.26 127.64,509.26 127.92,511.24 128.17,513.23 128.36,515.22 128.48,517.24 128.55,519.26 128.59,521.3 128.61,523.34 128.62,525.38 128.64,527.42 128.67,529.46 128.71,531.49 128.76,533.52 128.82,535.55 128.89,537.57 128.96,539.6 129.03,541.62 129.1,543.65 129.18,545.67 129.26,547.69" fill="none" stroke="#208385" stroke-width="2.25" stroke-linejoin="round" stroke-linecap="round" />
<polyline points="129.26,547.69 129.33,549.72 129.4,551.74 129.47,553.77 129.53,555.79 129.59,557.82 129.64,559.84 129.69,561.87 129.74,563.9 129.79,565.93 129.83,567.95 129.87,569.98 129.91,572.01 129.94,574.04 129.98,576.07 130.01,578.1 130.04,580.13 130.07,582.16 130.1,584.19 130.13,586.22 130.16,588.25 130.18,590.28 130.21,592.31 130.23,594.33 130.26,596.36 130.28,598.39 130.31,600.42 130.33,602.45 130.35,604.48 130.37,606.51 130.39,608.53 130.41,610.56" fill="none" stroke="#1f8884" stroke-width="2.25" stroke-linejoin="round" stroke-linecap="round" />
<polyline points="130.41,610.56 130.43,612.59 130.45,614.62 130.47,616.65 130.49,618.67 130.51,620.7 130.52,622.73 130.54,624.76 130.55,626.78 130.57,628.81 130.58,630.84 130.59,632.87 130.6,634.9 130.61,636.92 130.63,638.95 130.63,640.98 130.64,643.01 130.65,645.04 130.66,647.07 130.67,649.1" fill="none" stroke="#1d8c83" stroke-width="2.25" stroke-linejoin="round" stroke-linecap="round" />
<polyline points="130.67,649.1 130.67,651.12 130.68,653.15 130.68,655.18" fill="none" stroke="#1d9182" stroke-width="2.25" stroke-linejoin="round" stroke-linecap="round" />
<polyline points="130.68,655.18 130.68,657.21 130.69,659.24 130.69,661.27" fill="none" stroke="#1d9580" stroke-width="2.25" stroke-linejoin="round" stroke-linecap="round" />
<polyline points="130.69,661.27 130.69,663.3" fill="none" stroke="#1e9a7e" stroke-width="2.25" stroke-linejoin="round" stroke-linecap="round" />
<polyline points="130.59,600 130.6,602.88 130.6,605.75 130.61,608.63 130.61,611.51" fill="none" stroke="#1f8884" stroke-width="2.9" stroke-linejoin="round" stroke-linecap="round" />
<polyline points="130.61,611.51 130.62,614.39 130.62,617.26 130.62,620.14 130.63,623.02 130.63,625.9 130.64,628.77 130.64,631.65" fill="none" stroke="#1d8c83" stroke-width="2.9" stroke-linejoin="round" stroke-linecap="round" />
<polyline points="130.64,631.65 130.64,634.53 130.65,637.4 130.65,640.28 130.66,643.16 130.66,646.04 130.67,648.91 130.67,651.79" fill="none" stroke="#1d9182" stroke-width="2.9" stroke-linejoin="round" stroke-linecap="round" />
<polyline points="130.67,651.79 130.67,654.67 130.68,657.55 130.68,660.42 130.69,663.3" fill="none" stroke="#1d9580" stroke-width="2.9" stroke-linejoin="round" stroke-linecap="round" />
<polyline points="74.72,497 76.33,498.1 77.25,499.88 77.72,501.86 77.89,503.89 77.85,505.93 77.7,507.98 77.53,510.03 77.42,512.07 77.35,514.11 77.31,516.14 77.25,518.17 77.14,520.19 76.99,522.22" fill="none" stroke="#277186" stroke-width="2.25" stroke-linejoin="round" stroke-linecap="round" />
<polyline points="76.99,522.22 76.8,524.24 76.62,526.27 76.47,528.3 76.36,530.34 76.28,532.37 76.22,534.4 76.17,536.42 76.15,538.45 76.13,540.48 76.13,542.53 76.11,544.61 76,546.66 75.66,548.65 74.99,550.51" fill="none" stroke="#257586" stroke-width="2.25" stroke-linejoin="round" stroke-linecap="round" />
<polyline points="74.99,550.51 74.04,552.28 72.95,553.99 71.87,555.7" fill="none" stroke="#247a86" stroke-width="2.25" stroke-linejoin="round" stroke-linecap="round" />
<polyline points="71.87,555.7 70.86,557.44 69.99,559.24 69.3,561.12" fill="none" stroke="#227e85" stroke-width="2.25" stroke-linejoin="round" stroke-linecap="round" />
<polyline points="69.3,561.12 68.81,563.09 68.51,565.11 68.39,567.16 68.42,569.2" fill="none" stroke="#208385" stroke-width="2.25" stroke-linejoin="round" stroke-linecap="round" />
<polyline points="68.42,569.2 68.6,571.22 68.91,573.23 69.32,575.22 69.81,577.18" fill="none" stroke="#1f8884" stroke-width="2.25" stroke-linejoin="round" stroke-linecap="round" />
<polyline points="69.81,577.18 70.36,579.14 70.95,581.08 71.64,582.97 72.51,584.77 73.53,586.5" fill="none" stroke="#1d8c83" stroke-width="2.25" stroke-linejoin="round" stroke-linecap="round" />
<polyline points="73.53,586.5 74.65,588.16 75.82,589.78 77.03,591.37 78.27,592.92 79.53,594.43 80.83,595.92" fill="none" stroke="#1d9182" stroke-width="2.25" stroke-linejoin="round" stroke-linecap="round" />
<polyline points="80.83,595.92 82.17,597.37 83.55,598.78 84.97,600.15 86.43,601.46 87.94,602.7" fill="none" stroke="#1d9580" stroke-width="2.25" stroke-linejoin="round" stroke-linecap="round" />
<polyline points="87.94,602.7 89.5,603.88 91.1,604.98 92.75,606.02 94.44,606.98 96.15,607.87 97.9,608.69 99.68,609.44 101.48,610.11 103.31,610.7 105.16,611.21 107.03,611.64 108.92,611.96 110.82,612.17 112.73,612.26 114.64,612.21" fill="none" stroke="#1e9a7e" stroke-width="2.25" stroke-linejoin="round" stroke-linecap="round" />
<polyline points="114.64,612.21 116.54,612 118.42,611.63 120.27,611.06 122.06,610.28 123.72,609.27 125.21,608 126.49,606.48 127.57,604.78 128.44,602.95 129.11,601.04 129.56,599.07 129.81,597.05 129.84,595" fill="none" stroke="#209e7c" stroke-width="2.25" stroke-linejoin="round" stroke-linecap="round" />
<polyline points="177,489.5 177.76,491.35 178.49,493.22 179.18,495.11 179.81,497.01 180.4,498.94 180.91,500.89 181.35,502.85 181.74,504.83 182.1,506.82 182.45,508.81" fill="none" stroke="#227e85" stroke-width="2.25" stroke-linejoin="round" stroke-linecap="round" />
<polyline points="182.45,508.81 182.8,510.8 183.15,512.79 183.48,514.78 183.77,516.78 183.99,518.79 184.13,520.8 184.23,522.82 184.35,524.84 184.55,526.85 184.86,528.84 185.25,530.83 185.67,532.8 186.1,534.77 186.52,536.74 186.91,538.72 187.27,540.7 187.59,542.7 187.87,544.72 188.03,546.75 188.01,548.76" fill="none" stroke="#247a86" stroke-width="2.25" stroke-linejoin="round" stroke-linecap="round" />
<polyline points="188.01,548.76 187.76,550.76 187.27,552.72 186.61,554.63 185.8,556.48 184.88,558.25 183.84,559.95 182.7,561.57 181.48,563.11 180.17,564.57 178.8,565.98 177.39,567.34 175.95,568.67 174.48,569.95 172.97,571.18" fill="none" stroke="#257586" stroke-width="2.25" stroke-linejoin="round" stroke-linecap="round" />
<polyline points="172.97,571.18 171.4,572.31 169.77,573.34 168.09,574.26 166.37,575.13 164.63,575.95 162.9,576.77 161.16,577.58" fill="none" stroke="#277186" stroke-width="2.25" stroke-linejoin="round" stroke-linecap="round" />
<polyline points="161.16,577.58 159.41,578.36 157.65,579.11 155.88,579.84 154.11,580.56 152.35,581.3 150.6,582.08 148.87,582.91 147.15,583.76" fill="none" stroke="#296c86" stroke-width="2.25" stroke-linejoin="round" stroke-linecap="round" />
<polyline points="147.15,583.76 145.43,584.62 143.71,585.47 141.98,586.29 140.24,587.09 138.5,587.9 136.77,588.73 135.06,589.61" fill="none" stroke="#2b6886" stroke-width="2.25" stroke-linejoin="round" stroke-linecap="round" />
<polyline points="135.06,589.61 133.37,590.53 131.66,591.41 129.91,592.19 128.11,592.81 126.24,593.23 124.35,593.46" fill="none" stroke="#2d6385" stroke-width="2.25" stroke-linejoin="round" stroke-linecap="round" />
<polyline points="124.35,593.46 122.44,593.49 120.55,593.33 118.67,593 116.82,592.5 115.02,591.86 113.27,591.07" fill="none" stroke="#2f5e85" stroke-width="2.25" stroke-linejoin="round" stroke-linecap="round" />
<polyline points="113.27,591.07 111.57,590.16 109.93,589.13 108.35,588 106.84,586.77 105.39,585.45 104.02,584.05" fill="none" stroke="#325985" stroke-width="2.25" stroke-linejoin="round" stroke-linecap="round" />
<polyline points="104.02,584.05 102.73,582.56 101.52,581.01 100.37,579.4 99.27,577.75 98.2,576.07" fill="none" stroke="#345484" stroke-width="2.25" stroke-linejoin="round" stroke-linecap="round" />
<polyline points="98.2,576.07 97.15,574.39 96.11,572.69 95.12,570.97 94.18,569.22 93.3,567.43" fill="none" stroke="#364f83" stroke-width="2.25" stroke-linejoin="round" stroke-linecap="round" />
<polyline points="93.3,567.43 92.5,565.6 91.78,563.72 91.13,561.81 90.57,559.86 90.15,557.87" fill="none" stroke="#384a82" stroke-width="2.25" stroke-linejoin="round" stroke-linecap="round" />
<polyline points="90.15,557.87 89.93,555.87 89.95,553.85 90.19,551.85 90.58,549.85 91.05,547.88" fill="none" stroke="#3b4581" stroke-width="2.25" stroke-linejoin="round" stroke-linecap="round" />
<polyline points="91.05,547.88 91.54,545.92 92,543.97 92.37,541.99 92.63,539.99 92.81,537.98" fill="none" stroke="#3d407f" stroke-width="2.25" stroke-linejoin="round" stroke-linecap="round" />
<polyline points="92.81,537.98 92.95,535.96 93.07,533.93 93.2,531.91 93.33,529.89 93.45,527.87" fill="none" stroke="#3f3a7d" stroke-width="2.25" stroke-linejoin="round" stroke-linecap="round" />
<polyline points="93.45,527.87 93.57,525.86 93.66,523.84 93.72,521.82 93.75,519.79 93.73,517.77 93.65,515.74 93.49,513.73" fill="none" stroke="#41337a" stroke-width="2.25" stroke-linejoin="round" stroke-linecap="round" />
<polyline points="93.49,513.73 93.24,511.72 92.89,509.74" fill="none" stroke="#3f3a7d" stroke-width="2.25" stroke-linejoin="round" stroke-linecap="round" />
<polyline points="92.89,509.74 92.47,507.77 92.02,505.8" fill="none" stroke="#3d407f" stroke-width="2.25" stroke-linejoin="round" stroke-linecap="round" />
<polyline points="92.02,505.8 91.58,503.83 91.18,501.85" fill="none" stroke="#3b4581" stroke-width="2.25" stroke-linejoin="round" stroke-linecap="round" />
<polyline points="91.18,501.85 90.84,499.86 90.51,497.87" fill="none" stroke="#384a82" stroke-width="2.25" stroke-linejoin="round" stroke-linecap="round" />
<polyline points="90.51,497.87 90.16,495.88" fill="none" stroke="#364f83" stroke-width="2.25" stroke-linejoin="round" stroke-linecap="round" />
<polyline points="90.16,495.88 89.78,493.9 89.33,491.94" fill="none" stroke="#345484" stroke-width="2.25" stroke-linejoin="round" stroke-linecap="round" />
<polyline points="89.33,491.94 88.78,490" fill="none" stroke="#325985" stroke-width="2.25" stroke-linejoin="round" stroke-linecap="round" />
<polyline points="91.41,540 91.19,542.03 90.9,544.05" fill="none" stroke="#3d407f" stroke-width="2.25" stroke-linejoin="round" stroke-linecap="round" />
<polyline points="90.9,544.05 90.56,546.08 90.2,548.11 89.84,550.14" fill="none" stroke="#3b4581" stroke-width="2.25" stroke-linejoin="round" stroke-linecap="round" />
<polyline points="89.84,550.14 89.5,552.17 89.2,554.21 88.97,556.25 88.82,558.3" fill="none" stroke="#384a82" stroke-width="2.25" stroke-linejoin="round" stroke-linecap="round" />
<polyline points="88.82,558.3 88.77,560.35 88.84,562.41 89.02,564.47" fill="none" stroke="#364f83" stroke-width="2.25" stroke-linejoin="round" stroke-linecap="round" />
<polyline points="89.02,564.47 89.31,566.51 89.7,568.52 90.19,570.51" fill="none" stroke="#345484" stroke-width="2.25" stroke-linejoin="round" stroke-linecap="round" />
<polyline points="90.19,570.51 90.74,572.48 91.36,574.44 92,576.38 92.67,578.31 93.36,580.23 94.09,582.13" fill="none" stroke="#325985" stroke-width="2.25" stroke-linejoin="round" stroke-linecap="round" />
<polyline points="94.09,582.13 94.85,584.02 95.65,585.89 96.49,587.74 97.36,589.57 98.26,591.4 99.16,593.21 100.08,595.02 101.01,596.83" fill="none" stroke="#2f5e85" stroke-width="2.25" stroke-linejoin="round" stroke-linecap="round" />
<polyline points="101.01,596.83 101.94,598.63 102.87,600.42 103.81,602.22 104.76,604.02 105.7,605.81 106.67,607.59 107.64,609.36 108.64,611.12" fill="none" stroke="#2d6385" stroke-width="2.25" stroke-linejoin="round" stroke-linecap="round" />
<polyline points="108.64,611.12 109.66,612.87 110.71,614.59 111.78,616.3 112.87,618 113.99,619.68 115.12,621.34 116.27,622.99 117.44,624.63" fill="none" stroke="#2b6886" stroke-width="2.25" stroke-linejoin="round" stroke-linecap="round" />
<polyline points="117.44,624.63 118.62,626.25 119.83,627.85 121.07,629.43 122.33,630.99 123.62,632.52 124.89,634.08 126.08,635.69 127.14,637.41" fill="none" stroke="#296c86" stroke-width="2.25" stroke-linejoin="round" stroke-linecap="round" />
<polyline points="127.14,637.41 128.06,639.22 128.85,641.1 129.52,643.04 130.08,645" fill="none" stroke="#277186" stroke-width="2.25" stroke-linejoin="round" stroke-linecap="round" />
<polyline points="175.31,490.5 175.17,492.54 175.06,494.58 174.97,496.62 174.89,498.66 174.82,500.69 174.75,502.73 174.67,504.77 174.57,506.81 174.45,508.85 174.31,510.89" fill="none" stroke="#2b6886" stroke-width="2.25" stroke-linejoin="round" stroke-linecap="round" />
<polyline points="174.31,510.89 174.15,512.93 174.01,514.98 173.93,517.02 173.95,519.05 174.1,521.08 174.34,523.11 174.58,525.14 174.72,527.17 174.76,529.21 174.73,531.25 174.68,533.3 174.65,535.34 174.68,537.39 174.77,539.43 174.94,541.46 175.19,543.48 175.51,545.5 175.86,547.51 176.21,549.52" fill="none" stroke="#2d6385" stroke-width="2.25" stroke-linejoin="round" stroke-linecap="round" />
<polyline points="176.21,549.52 176.5,551.53 176.69,553.56 176.77,555.61 176.74,557.65 176.59,559.69 176.33,561.71 175.98,563.72 175.56,565.72 175.08,567.7 174.56,569.66 174,571.61 173.4,573.55 172.76,575.48 172.1,577.39 171.42,579.3 170.74,581.21" fill="none" stroke="#2f5e85" stroke-width="2.25" stroke-linejoin="round" stroke-linecap="round" />
<polyline points="170.74,581.21 170.05,583.12 169.36,585.03 168.64,586.92 167.87,588.79 167.05,590.63 166.16,592.43 165.21,594.2 164.21,595.94 163.18,597.67 162.13,599.39 161.09,601.1 160.03,602.81 158.96,604.5" fill="none" stroke="#2d6385" stroke-width="2.25" stroke-linejoin="round" stroke-linecap="round" />
<polyline points="158.96,604.5 157.84,606.16 156.69,607.78 155.48,609.36 154.23,610.91 152.95,612.42 151.63,613.91 150.3,615.38 148.96,616.84 147.61,618.29 146.24,619.72 144.86,621.13 143.46,622.51 142.03,623.87 140.58,625.2" fill="none" stroke="#2b6886" stroke-width="2.25" stroke-linejoin="round" stroke-linecap="round" />
<polyline points="140.58,625.2 139.1,626.5 137.59,627.77 136.09,629.04 134.65,630.39 133.33,631.85 132.19,633.5" fill="none" stroke="#296c86" stroke-width="2.25" stroke-linejoin="round" stroke-linecap="round" />
<polyline points="173.81,492 173.85,493.92 173.82,495.93 173.74,498 173.61,500.12 173.45,502.28 173.29,504.45 173.14,506.63 173,508.78 172.91,510.9 172.88,512.97" fill="none" stroke="#2f5e85" stroke-width="2.25" stroke-linejoin="round" stroke-linecap="round" />
<polyline points="172.88,512.97 172.91,514.96 173.04,516.88 173.19,518.79 173.25,520.88 173.09,523.34 172.64,525.99 171.99,527.91 171.22,528.14 170.42,526.55 169.61,524.03 168.86,521.54" fill="none" stroke="#325985" stroke-width="2.25" stroke-linejoin="round" stroke-linecap="round" />
<polyline points="168.86,521.54 168.16,519.46 167.49,517.64 166.84,515.91 166.17,514.09 165.47,512" fill="none" stroke="#345484" stroke-width="2.25" stroke-linejoin="round" stroke-linecap="round" />
<polyline points="172.97,553 171.95,554.76 171.03,556.57 170.18,558.43 169.37,560.32 168.6,562.22 167.82,564.13 167.03,566.03 166.21,567.9 165.32,569.74" fill="none" stroke="#209e7c" stroke-width="2.25" stroke-linejoin="round" stroke-linecap="round" />
<polyline points="165.32,569.74 164.35,571.52 163.28,573.25 162.18,574.95 161.14,576.69 160.21,578.5 159.36,580.36 158.55,582.25 157.76,584.14 156.94,586.02 156.09,587.88 155.21,589.72 154.32,591.56 153.41,593.38 152.48,595.2 151.55,597.01 150.61,598.82 149.67,600.63" fill="none" stroke="#1e9a7e" stroke-width="2.25" stroke-linejoin="round" stroke-linecap="round" />
<polyline points="149.67,600.63 148.73,602.44 147.8,604.25 146.88,606.07 145.96,607.88 145.03,609.7 144.11,611.52 143.18,613.34 142.24,615.15 141.29,616.95 140.31,618.73 139.3,620.5 138.29,622.26 137.3,624.04 136.34,625.83 135.4,627.64 134.45,629.45 133.49,631.24 132.47,633" fill="none" stroke="#1d9580" stroke-width="2.25" stroke-linejoin="round" stroke-linecap="round" />
<polyline points="176.26,491.03 174.29,490.85 172.35,490.63 170.43,490.36 168.52,490.04 166.63,489.66 164.75,489.21 162.89,488.7 161.04,488.11 159.2,487.45 157.36,486.71" fill="none" stroke="#247a86" stroke-width="2.25" stroke-linejoin="round" stroke-linecap="round" />
<polyline points="157.36,486.71 155.53,485.89 153.71,485 151.88,484.13 150.06,483.37 148.22,482.82 146.37,482.56 144.5,482.68" fill="none" stroke="#257586" stroke-width="2.25" stroke-linejoin="round" stroke-linecap="round" />
<polyline points="144.5,482.68 142.62,483.11 140.77,483.53 138.91,483.79 136.95,483.93" fill="none" stroke="#277186" stroke-width="2.25" stroke-linejoin="round" stroke-linecap="round" />
<polyline points="136.95,483.93 134.82,483.95 132.76,483.61 131.13,482.53" fill="none" stroke="#296c86" stroke-width="2.25" stroke-linejoin="round" stroke-linecap="round" />
<polyline points="131.13,482.53 130.86,480.83 132.39,479.43 134.2,479.19 135.88,479.98" fill="none" stroke="#2b6886" stroke-width="2.25" stroke-linejoin="round" stroke-linecap="round" />
<polyline points="135.88,479.98 137.44,481.4 138.89,483.02 140.27,484.52" fill="none" stroke="#2d6385" stroke-width="2.25" stroke-linejoin="round" stroke-linecap="round" />
<polyline points="140.27,484.52 141.63,485.88 143.08,487.17 144.6,488.41 146.19,489.6" fill="none" stroke="#2f5e85" stroke-width="2.25" stroke-linejoin="round" stroke-linecap="round" />
<polyline points="146.19,489.6 147.83,490.76 149.49,491.89 151.17,493.01" fill="none" stroke="#325985" stroke-width="2.25" stroke-linejoin="round" stroke-linecap="round" />
<polyline points="151.17,493.01 152.85,494.11 154.5,495.22 156.11,496.34 157.68,497.5" fill="none" stroke="#345484" stroke-width="2.25" stroke-linejoin="round" stroke-linecap="round" />
<polyline points="157.68,497.5 159.2,498.73 160.66,500.05 162.07,501.5 163.41,503.11" fill="none" stroke="#364f83" stroke-width="2.25" stroke-linejoin="round" stroke-linecap="round" />
<polyline points="163.41,503.11 164.54,504.88 165.04,506.79 164.83,508.82 164.3,510.9" fill="none" stroke="#384a82" stroke-width="2.25" stroke-linejoin="round" stroke-linecap="round" />
<polyline points="164.3,510.9 163.84,512.98 163.87,515" fill="none" stroke="#3b4581" stroke-width="2.25" stroke-linejoin="round" stroke-linecap="round" />
<polyline points="144.19,482.25 146.23,482.77 148.26,483.33 150.29,483.93 152.31,484.55" fill="none" stroke="#257586" stroke-width="2.25" stroke-linejoin="round" stroke-linecap="round" />
<polyline points="152.31,484.55 154.34,485.18 156.36,485.81 158.38,486.43 160.41,487.03 162.45,487.6 164.49,488.12 166.54,488.59 168.6,489" fill="none" stroke="#247a86" stroke-width="2.25" stroke-linejoin="round" stroke-linecap="round" />
<polyline points="168.6,489 170.68,489.32 172.77,489.57 174.87,489.71 177,489.75" fill="none" stroke="#227e85" stroke-width="2.25" stroke-linejoin="round" stroke-linecap="round" />
<polyline points="148.13,489 150.1,489.65 152,490.3" fill="none" stroke="#325985" stroke-width="2.25" stroke-linejoin="round" stroke-linecap="round" />
<polyline points="152,490.3 153.83,490.97 155.63,491.69 157.39,492.49 159.15,493.37 160.91,494.36" fill="none" stroke="#345484" stroke-width="2.25" stroke-linejoin="round" stroke-linecap="round" />
<polyline points="160.91,494.36 162.71,495.49 164.48,496.76 166.08,498.18 167.35,499.75 168.12,501.47" fill="none" stroke="#364f83" stroke-width="2.25" stroke-linejoin="round" stroke-linecap="round" />
<polyline points="168.12,501.47 168.23,503.33 167.72,505.31 166.83,507.34 165.85,509.36 165.07,511.29" fill="none" stroke="#384a82" stroke-width="2.25" stroke-linejoin="round" stroke-linecap="round" />
<polyline points="165.07,511.29 164.55,513.16 163.81,515.19" fill="none" stroke="#3b4581" stroke-width="2.25" stroke-linejoin="round" stroke-linecap="round" />
<polyline points="94.65,503.45 96.49,502.73 98.34,502.07 100.19,501.46 102.04,500.89 103.9,500.37" fill="none" stroke="#3d407f" stroke-width="2.25" stroke-linejoin="round" stroke-linecap="round" />
<polyline points="103.9,500.37 105.76,499.88 107.63,499.43 109.49,499.01 111.37,498.62 113.24,498.25 115.12,497.9 117.01,497.56 118.9,497.23 120.79,496.91" fill="none" stroke="#3b4581" stroke-width="2.25" stroke-linejoin="round" stroke-linecap="round" />
<polyline points="120.79,496.91 122.7,496.59 124.6,496.27 126.51,495.94 128.43,495.61 130.35,495.25 132.28,494.88 134.22,494.49 136.16,494.1 138.09,493.74 140.02,493.43 141.94,493.19 143.85,493.05 145.73,493.04 147.59,493.18 149.42,493.5 151.22,494.03" fill="none" stroke="#384a82" stroke-width="2.25" stroke-linejoin="round" stroke-linecap="round" />
<polyline points="151.22,494.03 152.98,494.77 154.71,495.7 156.41,496.78 158.08,497.98 159.7,499.28" fill="none" stroke="#3b4581" stroke-width="2.25" stroke-linejoin="round" stroke-linecap="round" />
<polyline points="159.7,499.28 161.21,500.69 162.55,502.2 163.65,503.81 164.45,505.55" fill="none" stroke="#3d407f" stroke-width="2.25" stroke-linejoin="round" stroke-linecap="round" />
<polyline points="164.45,505.55 164.88,507.39 164.88,509.36" fill="none" stroke="#3f3a7d" stroke-width="2.25" stroke-linejoin="round" stroke-linecap="round" />
<polyline points="164.88,509.36 164.48,511.44" fill="none" stroke="#41337a" stroke-width="2.25" stroke-linejoin="round" stroke-linecap="round" />
<polyline points="164.48,511.44 163.91,513.56" fill="none" stroke="#422e76" stroke-width="2.25" stroke-linejoin="round" stroke-linecap="round" />
<polyline points="163.91,513.56 163.47,515.65 163.44,517.65" fill="none" stroke="#432872" stroke-width="2.25" stroke-linejoin="round" stroke-linecap="round" />
<polyline points="163.44,517.65 164.01,519.51" fill="none" stroke="#44226e" stroke-width="2.25" stroke-linejoin="round" stroke-linecap="round" />
<polyline points="164.01,519.51 164.64,521.43" fill="none" stroke="#441c69" stroke-width="2.25" stroke-linejoin="round" stroke-linecap="round" />
<polyline points="164.64,521.43 164.45,523.7" fill="none" stroke="#441563" stroke-width="2.25" stroke-linejoin="round" stroke-linecap="round" />
<polyline points="91.87,497 92.54,498.91 93.16,500.86 93.72,502.85 94.19,504.86 94.57,506.9 94.84,508.95 94.98,511.01 94.99,513.06 94.85,515.11 94.6,517.16 94.32,519.2 94.07,521.25 93.89,523.3 93.77,525.36 93.73,527.41 93.75,529.47" fill="none" stroke="#422e76" stroke-width="2.25" stroke-linejoin="round" stroke-linecap="round" />
<polyline points="93.75,529.47 93.77,531.54 93.77,533.6 93.69,535.66 93.53,537.71 93.29,539.76 92.97,541.79 92.6,543.81 92.17,545.82 91.73,547.82 91.29,549.84 90.92,551.88 90.69,553.92 90.69,555.97 90.93,558.01 91.37,560.03 91.94,562.02 92.6,563.98 93.34,565.88" fill="none" stroke="#432872" stroke-width="2.25" stroke-linejoin="round" stroke-linecap="round" />
<polyline points="93.34,565.88 94.17,567.74 95.1,569.54 96.13,571.29 97.19,573.01 98.23,574.75" fill="none" stroke="#422e76" stroke-width="2.25" stroke-linejoin="round" stroke-linecap="round" />
<polyline points="98.23,574.75 99.18,576.54 100.03,578.39 100.88,580.24 101.8,582.04 102.84,583.78 103.96,585.46" fill="none" stroke="#41337a" stroke-width="2.25" stroke-linejoin="round" stroke-linecap="round" />
<polyline points="103.96,585.46 105.14,587.09 106.36,588.7 107.61,590.3 108.85,591.88" fill="none" stroke="#3f3a7d" stroke-width="2.25" stroke-linejoin="round" stroke-linecap="round" />
<polyline points="108.85,591.88 110.1,593.45 111.37,595.01 112.67,596.53 114,598.01 115.39,599.44" fill="none" stroke="#3d407f" stroke-width="2.25" stroke-linejoin="round" stroke-linecap="round" />
<polyline points="115.39,599.44 116.82,600.83 118.28,602.18 119.78,603.49 121.31,604.75" fill="none" stroke="#3b4581" stroke-width="2.25" stroke-linejoin="round" stroke-linecap="round" />
<polyline points="121.31,604.75 122.86,605.98 124.44,607.16 126.05,608.29 127.7,609.38 129.38,610.4" fill="none" stroke="#384a82" stroke-width="2.25" stroke-linejoin="round" stroke-linecap="round" />
<polyline points="93.28,500 93.8,501.96 94.24,503.94 94.61,505.94 94.92,507.95 95.15,509.97 95.33,511.99 95.44,514.02 95.49,516.06 95.49,518.09 95.43,520.12 95.33,522.15 95.18,524.18 95.02,526.21 94.84,528.23 94.67,530.26 94.5,532.28 94.34,534.31" fill="none" stroke="#422e76" stroke-width="2.25" stroke-linejoin="round" stroke-linecap="round" />
<polyline points="94.34,534.31 94.16,536.34 93.95,538.35 93.7,540.37 93.4,542.37 93.07,544.37 92.71,546.36 92.33,548.36 91.96,550.37 91.63,552.38 91.43,554.39 91.43,556.42 91.65,558.45 92.06,560.45 92.63,562.4 93.34,564.29 94.14,566.13 94.99,567.96 95.85,569.77 96.69,571.6 97.52,573.43" fill="none" stroke="#432872" stroke-width="2.25" stroke-linejoin="round" stroke-linecap="round" />
<polyline points="97.52,573.43 98.34,575.26 99.15,577.1 99.95,578.94 100.76,580.79 101.57,582.63" fill="none" stroke="#422e76" stroke-width="2.25" stroke-linejoin="round" stroke-linecap="round" />
<polyline points="101.57,582.63 102.39,584.46 103.24,586.29 104.11,588.09 105.02,589.88 105.97,591.64 106.95,593.38" fill="none" stroke="#41337a" stroke-width="2.25" stroke-linejoin="round" stroke-linecap="round" />
<polyline points="106.95,593.38 107.98,595.1 109.02,596.8 110.09,598.48 111.18,600.15 112.28,601.81" fill="none" stroke="#3f3a7d" stroke-width="2.25" stroke-linejoin="round" stroke-linecap="round" />
<polyline points="112.28,601.81 113.4,603.46 114.52,605.1 115.66,606.73 116.8,608.36 117.96,609.97" fill="none" stroke="#3d407f" stroke-width="2.25" stroke-linejoin="round" stroke-linecap="round" />
<polyline points="117.96,609.97 119.13,611.58 120.31,613.17 121.5,614.76 122.72,616.32 123.95,617.88" fill="none" stroke="#3b4581" stroke-width="2.25" stroke-linejoin="round" stroke-linecap="round" />
<polyline points="123.95,617.88 125.19,619.43 126.4,620.99 127.57,622.6 128.66,624.26 129.66,626" fill="none" stroke="#384a82" stroke-width="2.25" stroke-linejoin="round" stroke-linecap="round" />
<polyline points="93.09,506 93.55,508.03 93.9,510.07 94.15,512.12 94.32,514.18 94.42,516.24 94.46,518.31 94.44,520.39 94.38,522.46" fill="none" stroke="#432872" stroke-width="3.2" stroke-linejoin="round" stroke-linecap="round" />
<polyline points="94.38,522.46 94.29,524.53 94.16,526.6 94.02,528.66 93.86,530.73 93.68,532.79 93.48,534.85 93.27,536.91 93.03,538.97 92.75,541.02 92.43,543.06 92.06,545.09 91.67,547.11 91.28,549.14 90.93,551.19 90.66,553.25" fill="none" stroke="#422e76" stroke-width="3.2" stroke-linejoin="round" stroke-linecap="round" />
<polyline points="90.66,553.25 90.56,555.31 90.68,557.37 91.01,559.42 91.52,561.44 92.17,563.41 92.94,565.34 93.79,567.21 94.69,569" fill="none" stroke="#41337a" stroke-width="3.2" stroke-linejoin="round" stroke-linecap="round" />
<polyline points="164.34,524 164.47,526.08 164.56,528.15 164.62,530.21 164.66,532.27 164.68,534.33 164.67,536.38 164.65,538.43 164.62,540.48 164.57,542.54 164.52,544.59 164.47,546.65" fill="none" stroke="#430f5d" stroke-width="2.25" stroke-linejoin="round" stroke-linecap="round" />
<polyline points="164.47,546.65 164.42,548.71 164.37,550.78 164.33,552.86 164.27,554.93 164.12,556.99 163.84,559.02 163.36,561 162.7,562.93" fill="none" stroke="#441563" stroke-width="2.25" stroke-linejoin="round" stroke-linecap="round" />
<polyline points="162.7,562.93 161.92,564.83 161.07,566.7 160.19,568.55 159.31,570.39" fill="none" stroke="#441c69" stroke-width="2.25" stroke-linejoin="round" stroke-linecap="round" />
<polyline points="159.31,570.39 158.44,572.23 157.59,574.08 156.77,575.94 155.98,577.83" fill="none" stroke="#44226e" stroke-width="2.25" stroke-linejoin="round" stroke-linecap="round" />
<polyline points="155.98,577.83 155.16,579.71 154.26,581.53 153.2,583.24 152.02,584.88" fill="none" stroke="#432872" stroke-width="2.25" stroke-linejoin="round" stroke-linecap="round" />
<polyline points="152.02,584.88 150.87,586.53 149.86,588.29 148.95,590.11 148.09,591.96" fill="none" stroke="#422e76" stroke-width="2.25" stroke-linejoin="round" stroke-linecap="round" />
<polyline points="148.09,591.96 147.23,593.81 146.33,595.64 145.4,597.45 144.43,599.23" fill="none" stroke="#41337a" stroke-width="2.25" stroke-linejoin="round" stroke-linecap="round" />
<polyline points="144.43,599.23 143.44,601 142.42,602.75 141.39,604.49 140.35,606.23" fill="none" stroke="#3f3a7d" stroke-width="2.25" stroke-linejoin="round" stroke-linecap="round" />
<polyline points="140.35,606.23 139.34,607.98 138.35,609.75 137.39,611.54 136.47,613.36" fill="none" stroke="#3d407f" stroke-width="2.25" stroke-linejoin="round" stroke-linecap="round" />
<polyline points="136.47,613.36 135.61,615.21 134.82,617.1 134.15,619.03 133.61,621" fill="none" stroke="#3b4581" stroke-width="2.25" stroke-linejoin="round" stroke-linecap="round" />
<polyline points="133.61,621 133.16,623.01 132.74,625.02 132.28,627.03 131.72,629" fill="none" stroke="#384a82" stroke-width="2.25" stroke-linejoin="round" stroke-linecap="round" />
<polyline points="155.63,586 154.46,587.72 153.36,589.48 152.3,591.26 151.27,593.07 150.28,594.9 149.3,596.75 148.34,598.6" fill="none" stroke="#364f83" stroke-width="2.25" stroke-linejoin="round" stroke-linecap="round" />
<polyline points="148.34,598.6 147.38,600.45 146.42,602.3 145.44,604.14 144.44,605.97 143.44,607.8 142.42,609.62" fill="none" stroke="#345484" stroke-width="2.25" stroke-linejoin="round" stroke-linecap="round" />
<polyline points="142.42,609.62 141.41,611.43 140.4,613.25 139.39,615.07 138.37,616.89 137.34,618.7 136.29,620.5 135.24,622.3" fill="none" stroke="#325985" stroke-width="2.25" stroke-linejoin="round" stroke-linecap="round" />
<polyline points="135.24,622.3 134.25,624.13 133.37,626.02 132.66,628" fill="none" stroke="#2f5e85" stroke-width="2.25" stroke-linejoin="round" stroke-linecap="round" />
<polyline points="88.59,491 88.73,493.02 88.87,495.04 89.02,497.07 89.17,499.1 89.35,501.13 89.55,503.16 89.77,505.18 90.01,507.19 90.3,509.2 90.61,511.2 90.97,513.19 91.37,515.17 91.8,517.15" fill="none" stroke="#325985" stroke-width="2.25" stroke-linejoin="round" stroke-linecap="round" />
<polyline points="91.8,517.15 92.23,519.12 92.64,521.12 93.02,523.13 93.43,525.13 93.98,527.06 94.78,528.88 95.82,530.57 97.03,532.17 98.33,533.7 99.65,535.18 100.99,536.63 102.33,538.07 103.68,539.49 105.02,540.92 106.36,542.36 107.7,543.8 109.05,545.24 110.41,546.66" fill="none" stroke="#2f5e85" stroke-width="2.25" stroke-linejoin="round" stroke-linecap="round" />
<polyline points="110.41,546.66 111.79,548.07 113.19,549.46 114.6,550.83 116.01,552.2 117.4,553.59 118.76,555.01 120.07,556.48 121.32,558.01 122.52,559.59" fill="none" stroke="#325985" stroke-width="2.25" stroke-linejoin="round" stroke-linecap="round" />
<polyline points="122.52,559.59 123.67,561.21 124.79,562.85 125.88,564.52 126.94,566.2 127.98,567.9 129.02,569.61" fill="none" stroke="#345484" stroke-width="2.25" stroke-linejoin="round" stroke-linecap="round" />
<polyline points="129.02,569.61 130.05,571.33 131.11,573.03" fill="none" stroke="#364f83" stroke-width="2.25" stroke-linejoin="round" stroke-linecap="round" />
<polyline points="131.11,573.03 132.24,574.66 133.48,576.19" fill="none" stroke="#384a82" stroke-width="2.25" stroke-linejoin="round" stroke-linecap="round" />
<polyline points="133.48,576.19 134.87,577.58 136.4,578.8" fill="none" stroke="#3b4581" stroke-width="2.25" stroke-linejoin="round" stroke-linecap="round" />
<polyline points="136.4,578.8 138.08,579.83 139.87,580.59" fill="none" stroke="#3d407f" stroke-width="2.25" stroke-linejoin="round" stroke-linecap="round" />
<polyline points="139.87,580.59 141.73,580.99 143.63,580.94" fill="none" stroke="#3f3a7d" stroke-width="2.25" stroke-linejoin="round" stroke-linecap="round" />
<polyline points="143.63,580.94 145.51,580.53 147.35,579.89" fill="none" stroke="#41337a" stroke-width="2.25" stroke-linejoin="round" stroke-linecap="round" />
<polyline points="147.35,579.89 149.11,579.07 150.75,578.05 152.25,576.81" fill="none" stroke="#422e76" stroke-width="2.25" stroke-linejoin="round" stroke-linecap="round" />
<polyline points="152.25,576.81 153.61,575.39 154.88,573.86 156.09,572.27" fill="none" stroke="#432872" stroke-width="2.25" stroke-linejoin="round" stroke-linecap="round" />
<polyline points="156.09,572.27 157.25,570.65 158.33,568.99 159.33,567.27" fill="none" stroke="#44226e" stroke-width="2.25" stroke-linejoin="round" stroke-linecap="round" />
<polyline points="159.33,567.27 160.24,565.49 161.08,563.66 161.86,561.8" fill="none" stroke="#441c69" stroke-width="2.25" stroke-linejoin="round" stroke-linecap="round" />
<polyline points="161.86,561.8 162.62,559.92 163.32,558.03 163.92,556.11 164.38,554.14 164.68,552.13 164.84,550.1" fill="none" stroke="#441563" stroke-width="2.25" stroke-linejoin="round" stroke-linecap="round" />
<polyline points="164.84,550.1 164.91,548.06 164.9,546.02 164.84,543.98 164.74,541.96 164.62,539.93 164.49,537.91 164.37,535.88 164.26,533.85 164.18,531.82" fill="none" stroke="#430f5d" stroke-width="2.25" stroke-linejoin="round" stroke-linecap="round" />
<polyline points="164.18,531.82 164.15,529.78 164.17,527.75 164.26,525.73 164.44,523.7" fill="none" stroke="#420856" stroke-width="2.25" stroke-linejoin="round" stroke-linecap="round" />
<polyline points="163.69,558 164.02,555.87 164.27,553.74 164.47,551.61 164.6,549.46 164.69,547.32 164.73,545.17 164.73,543.03 164.7,540.88 164.65,538.73 164.58,536.58 164.5,534.43" fill="none" stroke="#430f5d" stroke-width="3.4" stroke-linejoin="round" stroke-linecap="round" />
<polyline points="164.5,534.43 164.42,532.29 164.37,530.14 164.34,527.99 164.36,525.85 164.44,523.7" fill="none" stroke="#420856" stroke-width="3.4" stroke-linejoin="round" stroke-linecap="round" />
</g>
<circle cx="164.53" cy="523.6" r="4.85" fill="#ff0000"/>
<rect x="36.09" y="477" width="189.38" height="192.2" fill="none" stroke="#000" stroke-width="1.11" stroke-linejoin="miter"/>
<line x1="31.23" y1="661.55" x2="36.09" y2="661.55" stroke="#000" stroke-width="1.11" />
<text x="26.37" y="666" font-size="11.11" text-anchor="end" >−5</text>
<line x1="31.23" y1="635.72" x2="36.09" y2="635.72" stroke="#000" stroke-width="1.11" />
<text x="26.37" y="640" font-size="11.11" text-anchor="end" >−4</text>
<line x1="31.23" y1="609.89" x2="36.09" y2="609.89" stroke="#000" stroke-width="1.11" />
<text x="26.37" y="615" font-size="11.11" text-anchor="end" >−3</text>
<line x1="31.23" y1="584.06" x2="36.09" y2="584.06" stroke="#000" stroke-width="1.11" />
<text x="26.37" y="589" font-size="11.11" text-anchor="end" >−2</text>
<line x1="31.23" y1="558.23" x2="36.09" y2="558.23" stroke="#000" stroke-width="1.11" />
<text x="26.37" y="563" font-size="11.11" text-anchor="end" >−1</text>
<line x1="31.23" y1="532.4" x2="36.09" y2="532.4" stroke="#000" stroke-width="1.11" />
<text x="26.37" y="537" font-size="11.11" text-anchor="end" >0</text>
<line x1="31.23" y1="506.57" x2="36.09" y2="506.57" stroke="#000" stroke-width="1.11" />
<text x="26.37" y="511" font-size="11.11" text-anchor="end" >1</text>
<line x1="31.23" y1="480.74" x2="36.09" y2="480.74" stroke="#000" stroke-width="1.11" />
<text x="26.37" y="485" font-size="11.11" text-anchor="end" >2</text>
<line x1="50.62" y1="669.2" x2="50.62" y2="674.06" stroke="#000" stroke-width="1.11" />
<text x="50.62" y="689" font-size="11.11" text-anchor="middle" >−5.0</text>
<line x1="90.7" y1="669.2" x2="90.7" y2="674.06" stroke="#000" stroke-width="1.11" />
<text x="90.7" y="689" font-size="11.11" text-anchor="middle" >−2.5</text>
<line x1="130.78" y1="669.2" x2="130.78" y2="674.06" stroke="#000" stroke-width="1.11" />
<text x="130.78" y="689" font-size="11.11" text-anchor="middle" >0.0</text>
<line x1="170.86" y1="669.2" x2="170.86" y2="674.06" stroke="#000" stroke-width="1.11" />
<text x="170.86" y="689" font-size="11.11" text-anchor="middle" >2.5</text>
<line x1="210.94" y1="669.2" x2="210.94" y2="674.06" stroke="#000" stroke-width="1.11" />
<text x="210.94" y="689" font-size="11.11" text-anchor="middle" >5.0</text>
<text x="130.78" y="468" font-size="11.11" text-anchor="middle" >G-G diagram</text>
<rect x="283.97" y="509.08" width="171.66" height="7.22" fill="#1f77b4"/>
<line x1="275.34" y1="516.3" x2="464.62" y2="516.3" stroke="#000" stroke-width="0.69" />
<line x1="275.34" y1="479.1" x2="464.62" y2="479.1" stroke="#8b0000" stroke-width="0.69" stroke-dasharray="2.57 1.11"/>
<rect x="275.34" y="477" width="189.28" height="192.2" fill="none" stroke="#000" stroke-width="1.11" stroke-linejoin="miter"/>
<line x1="270.48" y1="477.25" x2="275.34" y2="477.25" stroke="#000" stroke-width="1.11" />
<text x="265.62" y="482" font-size="11.11" text-anchor="end" >1000</text>
<line x1="270.48" y1="516.3" x2="275.34" y2="516.3" stroke="#000" stroke-width="1.11" />
<text x="265.62" y="521" font-size="11.11" text-anchor="end" >0</text>
<line x1="270.48" y1="555.35" x2="275.34" y2="555.35" stroke="#000" stroke-width="1.11" />
<text x="265.62" y="560" font-size="11.11" text-anchor="end" >−1000</text>
<line x1="270.48" y1="594.4" x2="275.34" y2="594.4" stroke="#000" stroke-width="1.11" />
<text x="265.62" y="599" font-size="11.11" text-anchor="end" >−2000</text>
<line x1="270.48" y1="633.45" x2="275.34" y2="633.45" stroke="#000" stroke-width="1.11" />
<text x="265.62" y="638" font-size="11.11" text-anchor="end" >−3000</text>
<text x="369.98" y="468" font-size="11.11" text-anchor="middle" >Tractive power (kW)</text>
<rect x="522.56" y="494.6" width="18" height="174.6" fill="#1f77b4"/>
<rect x="574.03" y="499.14" width="18" height="170.06" fill="#1f77b4"/>
<rect x="625.5" y="547.68" width="18" height="121.52" fill="#1f77b4"/>
<rect x="676.97" y="494.6" width="18" height="174.6" fill="#1f77b4"/>
<line x1="514.22" y1="494.6" x2="703.5" y2="494.6" stroke="#8b0000" stroke-width="0.69" stroke-dasharray="2.57 1.11"/>
<rect x="514.22" y="477" width="189.28" height="192.2" fill="none" stroke="#000" stroke-width="1.11" stroke-linejoin="miter"/>
<line x1="531.56" y1="669.2" x2="531.56" y2="674.06" stroke="#000" stroke-width="1.11" />
<text x="531.56" y="689" font-size="11.11" text-anchor="middle" >FL</text>
<line x1="583.03" y1="669.2" x2="583.03" y2="674.06" stroke="#000" stroke-width="1.11" />
<text x="583.03" y="689" font-size="11.11" text-anchor="middle" >FR</text>
<line x1="634.5" y1="669.2" x2="634.5" y2="674.06" stroke="#000" stroke-width="1.11" />
<text x="634.5" y="689" font-size="11.11" text-anchor="middle" >RL</text>
<line x1="685.97" y1="669.2" x2="685.97" y2="674.06" stroke="#000" stroke-width="1.11" />
<text x="685.97" y="689" font-size="11.11" text-anchor="middle" >RR</text>
<line x1="509.36" y1="669.2" x2="514.22" y2="669.2" stroke="#000" stroke-width="1.11" />
<text x="504.5" y="674" font-size="11.11" text-anchor="end" >0.0</text>
<line x1="509.36" y1="634.28" x2="514.22" y2="634.28" stroke="#000" stroke-width="1.11" />
<text x="504.5" y="639" font-size="11.11" text-anchor="end" >0.2</text>
<line x1="509.36" y1="599.36" x2="514.22" y2="599.36" stroke="#000" stroke-width="1.11" />
<text x="504.5" y="604" font-size="11.11" text-anchor="end" >0.4</text>
<line x1="509.36" y1="564.44" x2="514.22" y2="564.44" stroke="#000" stroke-width="1.11" />
<text x="504.5" y="569" font-size="11.11" text-anchor="end" >0.6</text>
<line x1="509.36" y1="529.52" x2="514.22" y2="529.52" stroke="#000" stroke-width="1.11" />
<text x="504.5" y="534" font-size="11.11" text-anchor="end" >0.8</text>
<line x1="509.36" y1="494.6" x2="514.22" y2="494.6" stroke="#000" stroke-width="1.11" />
<text x="504.5" y="499" font-size="11.11" text-anchor="end" >1.0</text>
<text x="608.86" y="468" font-size="11.11" text-anchor="middle" >Tire friction constraint</text>
<line x1="795.47" y1="14.5" x2="795.47" y2="144.6" stroke="#b0b0b0" stroke-width="1.11" />
<line x1="848.64" y1="14.5" x2="848.64" y2="144.6" stroke="#b0b0b0" stroke-width="1.11" />
<line x1="901.81" y1="14.5" x2="901.81" y2="144.6" stroke="#b0b0b0" stroke-width="1.11" />
<line x1="954.98" y1="14.5" x2="954.98" y2="144.6" stroke="#b0b0b0" stroke-width="1.11" />
<line x1="1008.15" y1="14.5" x2="1008.15" y2="144.6" stroke="#b0b0b0" stroke-width="1.11" />
<line x1="1061.32" y1="14.5" x2="1061.32" y2="144.6" stroke="#b0b0b0" stroke-width="1.11" />
<line x1="1114.49" y1="14.5" x2="1114.49" y2="144.6" stroke="#b0b0b0" stroke-width="1.11" />
<line x1="1167.66" y1="14.5" x2="1167.66" y2="144.6" stroke="#b0b0b0" stroke-width="1.11" />
<line x1="762.66" y1="25.5" x2="1188.28" y2="25.5" stroke="#b0b0b0" stroke-width="1.11" />
<line x1="762.66" y1="55.5" x2="1188.28" y2="55.5" stroke="#b0b0b0" stroke-width="1.11" />
<line x1="762.66" y1="85.5" x2="1188.28" y2="85.5" stroke="#b0b0b0" stroke-width="1.11" />
<line x1="762.66" y1="115.5" x2="1188.28" y2="115.5" stroke="#b0b0b0" stroke-width="1.11" />
<g clip-path="url(#cpA0)">
<polyline points="762.66,108.4 771.09,113.1 782.81,117.25 795.47,119.6 806.25,121.25 812.81,121.9 816.8,122.1 819.84,122 822.66,121.5 825.94,120.5 829.69,119 841.41,114.4 849,111.4 864.84,105 871.88,101.7 874.78,100.4 876.56,99.7 878.34,99.4 880.12,99.6 881.81,100.25 884.06,101.3 888.28,103.75 892.97,106.9 900,111.9 901.97,113.1 910.55,118.5 921.09,123.75 932.81,128.25 944.53,131.5 954.84,133.4 960.94,134.4 964.45,134.6 966.56,134.4 969.14,134 973.59,133.1" fill="none" stroke="#1a6297" stroke-width="2.08" stroke-linejoin="round" stroke-linecap="square" />
</g>
<line x1="795.47" y1="144.6" x2="795.47" y2="275.6" stroke="#b0b0b0" stroke-width="1.11" />
<line x1="848.64" y1="144.6" x2="848.64" y2="275.6" stroke="#b0b0b0" stroke-width="1.11" />
<line x1="901.81" y1="144.6" x2="901.81" y2="275.6" stroke="#b0b0b0" stroke-width="1.11" />
<line x1="954.98" y1="144.6" x2="954.98" y2="275.6" stroke="#b0b0b0" stroke-width="1.11" />
<line x1="1008.15" y1="144.6" x2="1008.15" y2="275.6" stroke="#b0b0b0" stroke-width="1.11" />
<line x1="1061.32" y1="144.6" x2="1061.32" y2="275.6" stroke="#b0b0b0" stroke-width="1.11" />
<line x1="1114.49" y1="144.6" x2="1114.49" y2="275.6" stroke="#b0b0b0" stroke-width="1.11" />
<line x1="1167.66" y1="144.6" x2="1167.66" y2="275.6" stroke="#b0b0b0" stroke-width="1.11" />
<line x1="762.66" y1="158.5" x2="1188.28" y2="158.5" stroke="#b0b0b0" stroke-width="1.11" />
<line x1="762.66" y1="188.5" x2="1188.28" y2="188.5" stroke="#b0b0b0" stroke-width="1.11" />
<line x1="762.66" y1="218.5" x2="1188.28" y2="218.5" stroke="#b0b0b0" stroke-width="1.11" />
<line x1="762.66" y1="248.5" x2="1188.28" y2="248.5" stroke="#b0b0b0" stroke-width="1.11" />
<g clip-path="url(#cpA1)">
<polyline points="762.66,239 763.59,241.5 765.23,245 766.88,247.7 768.75,250 771.09,252 773.44,253.5 780.47,256.9 787.5,259 795.47,260.6 806.25,262.5 810.94,262.95 814.45,263.1 817.97,262.95 821.48,262.5 829.69,260.6 841.41,257.5 849,255.9 858.98,254 870.7,252.25 878.34,251.25 879.66,249.5 880.69,245.6 882.42,233.75 884.16,220 885.94,207.5 887.06,204 888.38,202 889.97,203.3 891.8,205 894.38,207 896.06,208.1 897.38,206 898.83,203.1 901.78,197.75 903.75,196.3 907.03,194.4 909.38,191.7 911.72,188.75 918.75,181.9 925.78,175.6 935.16,169 944.53,163.75 949.69,161.7 955.08,160 960.94,158.9 964.45,158.75 967.03,159.1 969.14,159.6 973.41,161" fill="none" stroke="#e47010" stroke-width="2.08" stroke-linejoin="round" stroke-linecap="square" />
</g>
<line x1="795.47" y1="275.6" x2="795.47" y2="407" stroke="#b0b0b0" stroke-width="1.11" />
<line x1="848.64" y1="275.6" x2="848.64" y2="407" stroke="#b0b0b0" stroke-width="1.11" />
<line x1="901.81" y1="275.6" x2="901.81" y2="407" stroke="#b0b0b0" stroke-width="1.11" />
<line x1="954.98" y1="275.6" x2="954.98" y2="407" stroke="#b0b0b0" stroke-width="1.11" />
<line x1="1008.15" y1="275.6" x2="1008.15" y2="407" stroke="#b0b0b0" stroke-width="1.11" />
<line x1="1061.32" y1="275.6" x2="1061.32" y2="407" stroke="#b0b0b0" stroke-width="1.11" />
<line x1="1114.49" y1="275.6" x2="1114.49" y2="407" stroke="#b0b0b0" stroke-width="1.11" />
<line x1="1167.66" y1="275.6" x2="1167.66" y2="407" stroke="#b0b0b0" stroke-width="1.11" />
<line x1="762.66" y1="290" x2="1188.28" y2="290" stroke="#b0b0b0" stroke-width="1.11" />
<line x1="762.66" y1="316" x2="1188.28" y2="316" stroke="#b0b0b0" stroke-width="1.11" />
<line x1="762.66" y1="341.9" x2="1188.28" y2="341.9" stroke="#b0b0b0" stroke-width="1.11" />
<line x1="762.66" y1="367.9" x2="1188.28" y2="367.9" stroke="#b0b0b0" stroke-width="1.11" />
<line x1="762.66" y1="393.9" x2="1188.28" y2="393.9" stroke="#b0b0b0" stroke-width="1.11" />
<g clip-path="url(#cpA2)">
<polyline points="762.66,289.8 765.47,291.5 768.47,294.3 771.19,298.2 774,303 776.72,309.3 779.44,316.7 784.88,336.1 789.47,353.6 793.97,370.1 796.31,377 798.56,382.8 801.19,387.5 804,390.9 807,393 810.09,393.8 813.09,393 815.91,390.9 818.62,387.2 821.34,381.8 824.06,374.5 826.78,365.3 832.31,344.9 837.75,323.5 840.47,314.5 843.19,306.9 845.91,301 848.72,296.2 851.44,292.9 854.16,290.8 856.41,289.8 858.75,289.4 861.38,289.9 864.19,291.4 867.19,294.5 870.19,298.9 873.75,305.3 877.5,313.75 884.72,333.2 892.03,352.1 899.34,370.1 902.81,378 906,383.75 908.91,388 911.72,391.4 914.44,393.3 917.16,394 919.88,393.3 922.69,391.5 925.5,388 928.12,382.8 930.94,375.4 933.56,366.25 939.09,343.9 944.53,320.6 947.25,311 949.97,303.1 952.69,297.3 955.5,293.3 957.75,291 960,289.8 962.72,289.2 964.69,289.6 966.38,290.4 970.03,294.3 973.31,298.8" fill="none" stroke="#248324" stroke-width="2.08" stroke-linejoin="round" stroke-linecap="square" />
</g>
<line x1="795.47" y1="407" x2="795.47" y2="538" stroke="#b0b0b0" stroke-width="1.11" />
<line x1="848.64" y1="407" x2="848.64" y2="538" stroke="#b0b0b0" stroke-width="1.11" />
<line x1="901.81" y1="407" x2="901.81" y2="538" stroke="#b0b0b0" stroke-width="1.11" />
<line x1="954.98" y1="407" x2="954.98" y2="538" stroke="#b0b0b0" stroke-width="1.11" />
<line x1="1008.15" y1="407" x2="1008.15" y2="538" stroke="#b0b0b0" stroke-width="1.11" />
<line x1="1061.32" y1="407" x2="1061.32" y2="538" stroke="#b0b0b0" stroke-width="1.11" />
<line x1="1114.49" y1="407" x2="1114.49" y2="538" stroke="#b0b0b0" stroke-width="1.11" />
<line x1="1167.66" y1="407" x2="1167.66" y2="538" stroke="#b0b0b0" stroke-width="1.11" />
<line x1="762.66" y1="425.9" x2="1188.28" y2="425.9" stroke="#b0b0b0" stroke-width="1.11" />
<line x1="762.66" y1="464.4" x2="1188.28" y2="464.4" stroke="#b0b0b0" stroke-width="1.11" />
<line x1="762.66" y1="502.8" x2="1188.28" y2="502.8" stroke="#b0b0b0" stroke-width="1.11" />
<g clip-path="url(#cpA3)">
<polyline points="762.66,467.4 765.47,468.6 768.19,469 770.62,468.6 773.44,467.9 780.47,465.6 787.5,463.5 795.47,461.6 803.91,460 807.19,459.4 810.38,459.1 813.75,459.4 816.8,459.75 819.84,459.45 822.66,459.1 826.78,458.9 828.75,459.2 830.86,459.75 839.06,461.9 849,463.75 858.98,465.6 869.53,467.1 874.69,467.9 877.03,468.4 880.08,470 881.72,470.9 883.31,471.2 884.62,469.8 885.94,467.5 887.81,464.6 889.59,462.7 891.38,461.7 893.25,461.4 895.78,462.2 898.83,463.1 901.88,462.75 904.97,462.5 907.5,462.9 910.55,463.75 916.41,466 925.78,471.25 935.16,477.25 944.53,482.75 951.56,486.25 954.38,487.5 956.72,488.2 959.53,488.35 962.11,488.3 966.8,489 970.31,489.25 973.41,488.75" fill="none" stroke="#c91a20" stroke-width="2.08" stroke-linejoin="round" stroke-linecap="square" />
</g>
<line x1="795.47" y1="538" x2="795.47" y2="669.2" stroke="#b0b0b0" stroke-width="1.11" />
<line x1="848.64" y1="538" x2="848.64" y2="669.2" stroke="#b0b0b0" stroke-width="1.11" />
<line x1="901.81" y1="538" x2="901.81" y2="669.2" stroke="#b0b0b0" stroke-width="1.11" />
<line x1="954.98" y1="538" x2="954.98" y2="669.2" stroke="#b0b0b0" stroke-width="1.11" />
<line x1="1008.15" y1="538" x2="1008.15" y2="669.2" stroke="#b0b0b0" stroke-width="1.11" />
<line x1="1061.32" y1="538" x2="1061.32" y2="669.2" stroke="#b0b0b0" stroke-width="1.11" />
<line x1="1114.49" y1="538" x2="1114.49" y2="669.2" stroke="#b0b0b0" stroke-width="1.11" />
<line x1="1167.66" y1="538" x2="1167.66" y2="669.2" stroke="#b0b0b0" stroke-width="1.11" />
<line x1="762.66" y1="568.9" x2="1188.28" y2="568.9" stroke="#b0b0b0" stroke-width="1.11" />
<line x1="762.66" y1="615.5" x2="1188.28" y2="615.5" stroke="#b0b0b0" stroke-width="1.11" />
<line x1="762.66" y1="662.1" x2="1188.28" y2="662.1" stroke="#b0b0b0" stroke-width="1.11" />
<g clip-path="url(#cpA4)">
<polyline points="762.66,546.5 776.95,546.25 795.7,546.1 799.78,546.9 803.91,548.1 805.59,547.3 806.81,546 808.31,546.5 809.77,548.5 812.11,557.5 814.45,565.6 816.19,567.9 817.97,565.6 821.48,556.9 825,548.75 826.41,547.1 827.91,546.25 841.41,545.9 864.84,546 871.41,546.35 873.05,546.5 874.5,548 876,551.5 878.62,563.7 880.97,573.3 883.59,563 885.94,552.5 887.16,550 888.28,548.6 889.97,548.9 891.8,549.1 894.38,548 896.81,547.1 902.34,546.5 925.78,546.1 944.53,546.1 948.05,546.9 951.56,547.9 953.25,547.2 954.47,546 955.59,547.5 956.81,551.25 958.59,566.25 960.94,585 962.34,595 963.56,593 965.06,588.75 967.41,572.5 969.75,558.75 972.84,548.1" fill="none" stroke="#7b5a9c" stroke-width="2.08" stroke-linejoin="round" stroke-linecap="square" />
</g>
<rect x="762.66" y="14.5" width="425.62" height="130.1" fill="none" stroke="#000" stroke-width="1.11" stroke-linejoin="miter"/>
<line x1="757.8" y1="25.5" x2="762.66" y2="25.5" stroke="#000" stroke-width="1.11" />
<text x="752.93" y="30" font-size="11.11" text-anchor="end" >100</text>
<line x1="757.8" y1="55.5" x2="762.66" y2="55.5" stroke="#000" stroke-width="1.11" />
<text x="752.93" y="60" font-size="11.11" text-anchor="end" >80</text>
<line x1="757.8" y1="85.5" x2="762.66" y2="85.5" stroke="#000" stroke-width="1.11" />
<text x="752.93" y="90" font-size="11.11" text-anchor="end" >60</text>
<line x1="757.8" y1="115.5" x2="762.66" y2="115.5" stroke="#000" stroke-width="1.11" />
<text x="752.93" y="120" font-size="11.11" text-anchor="end" >40</text>
<rect x="1066.41" y="20.5" width="116.06" height="20.8" rx="2.8" ry="2.8" fill="#fff" fill-opacity="0.8" stroke="#ccc" stroke-opacity="0.8" stroke-width="1.1"/>
<line x1="1070.16" y1="30.2" x2="1094.25" y2="30.2" stroke="#1a6297" stroke-width="2.08" />
<text x="1101.94" y="34" font-size="11.11" text-anchor="start" >Velocity (m/s)</text>
<polyline points="762.66,144.6 762.66,275.6 1188.28,275.6 1188.28,144.6" fill="none" stroke="#000" stroke-width="1.11" stroke-linejoin="miter" stroke-linecap="butt"/>
<line x1="757.8" y1="158.5" x2="762.66" y2="158.5" stroke="#000" stroke-width="1.11" />
<text x="752.93" y="163" font-size="11.11" text-anchor="end" >0.10</text>
<line x1="757.8" y1="188.5" x2="762.66" y2="188.5" stroke="#000" stroke-width="1.11" />
<text x="752.93" y="193" font-size="11.11" text-anchor="end" >0.05</text>
<line x1="757.8" y1="218.5" x2="762.66" y2="218.5" stroke="#000" stroke-width="1.11" />
<text x="752.93" y="223" font-size="11.11" text-anchor="end" >0.00</text>
<line x1="757.8" y1="248.5" x2="762.66" y2="248.5" stroke="#000" stroke-width="1.11" />
<text x="752.93" y="253" font-size="11.11" text-anchor="end" >−0.05</text>
<rect x="1030.59" y="151.4" width="151.88" height="20.8" rx="2.8" ry="2.8" fill="#fff" fill-opacity="0.8" stroke="#ccc" stroke-opacity="0.8" stroke-width="1.1"/>
<line x1="1034.34" y1="161.1" x2="1058.44" y2="161.1" stroke="#e47010" stroke-width="2.08" />
<text x="1066.12" y="165" font-size="11.11" text-anchor="start" >Steering angle (rad)</text>
<polyline points="762.66,275.6 762.66,407 1188.28,407 1188.28,275.6" fill="none" stroke="#000" stroke-width="1.11" stroke-linejoin="miter" stroke-linecap="butt"/>
<line x1="757.8" y1="290" x2="762.66" y2="290" stroke="#000" stroke-width="1.11" />
<text x="752.93" y="295" font-size="11.11" text-anchor="end" >4</text>
<line x1="757.8" y1="316" x2="762.66" y2="316" stroke="#000" stroke-width="1.11" />
<text x="752.93" y="321" font-size="11.11" text-anchor="end" >2</text>
<line x1="757.8" y1="341.9" x2="762.66" y2="341.9" stroke="#000" stroke-width="1.11" />
<text x="752.93" y="347" font-size="11.11" text-anchor="end" >0</text>
<line x1="757.8" y1="367.9" x2="762.66" y2="367.9" stroke="#000" stroke-width="1.11" />
<text x="752.93" y="373" font-size="11.11" text-anchor="end" >−2</text>
<line x1="757.8" y1="393.9" x2="762.66" y2="393.9" stroke="#000" stroke-width="1.11" />
<text x="752.93" y="399" font-size="11.11" text-anchor="end" >−4</text>
<rect x="1010.91" y="282.4" width="171.56" height="20.8" rx="2.8" ry="2.8" fill="#fff" fill-opacity="0.8" stroke="#ccc" stroke-opacity="0.8" stroke-width="1.1"/>
<line x1="1014.66" y1="292.1" x2="1038.75" y2="292.1" stroke="#248324" stroke-width="2.08" />
<text x="1046.44" y="296" font-size="11.11" text-anchor="start" >Centerline distance (m)</text>
<polyline points="762.66,407 762.66,538 1188.28,538 1188.28,407" fill="none" stroke="#000" stroke-width="1.11" stroke-linejoin="miter" stroke-linecap="butt"/>
<line x1="757.8" y1="425.9" x2="762.66" y2="425.9" stroke="#000" stroke-width="1.11" />
<text x="752.93" y="431" font-size="11.11" text-anchor="end" >0.02</text>
<line x1="757.8" y1="464.4" x2="762.66" y2="464.4" stroke="#000" stroke-width="1.11" />
<text x="752.93" y="469" font-size="11.11" text-anchor="end" >0.00</text>
<line x1="757.8" y1="502.8" x2="762.66" y2="502.8" stroke="#000" stroke-width="1.11" />
<text x="752.93" y="508" font-size="11.11" text-anchor="end" >−0.02</text>
<rect x="1056.84" y="413.5" width="125.62" height="20.8" rx="2.8" ry="2.8" fill="#fff" fill-opacity="0.8" stroke="#ccc" stroke-opacity="0.8" stroke-width="1.1"/>
<line x1="1060.59" y1="423.2" x2="1084.69" y2="423.2" stroke="#c91a20" stroke-width="2.08" />
<text x="1092.38" y="427" font-size="11.11" text-anchor="start" >Slip angle (rad)</text>
<polyline points="762.66,538 762.66,669.2 1188.28,669.2 1188.28,538" fill="none" stroke="#000" stroke-width="1.11" stroke-linejoin="miter" stroke-linecap="butt"/>
<line x1="757.8" y1="568.9" x2="762.66" y2="568.9" stroke="#000" stroke-width="1.11" />
<text x="752.93" y="574" font-size="11.11" text-anchor="end" >40</text>
<line x1="757.8" y1="615.5" x2="762.66" y2="615.5" stroke="#000" stroke-width="1.11" />
<text x="752.93" y="620" font-size="11.11" text-anchor="end" >20</text>
<line x1="757.8" y1="662.1" x2="762.66" y2="662.1" stroke="#000" stroke-width="1.11" />
<text x="752.93" y="667" font-size="11.11" text-anchor="end" >0</text>
<line x1="795.47" y1="669.2" x2="795.47" y2="674.06" stroke="#000" stroke-width="1.11" />
<text x="795.47" y="689" font-size="11.11" text-anchor="middle" >4200</text>
<line x1="848.64" y1="669.2" x2="848.64" y2="674.06" stroke="#000" stroke-width="1.11" />
<text x="848.64" y="689" font-size="11.11" text-anchor="middle" >4250</text>
<line x1="901.81" y1="669.2" x2="901.81" y2="674.06" stroke="#000" stroke-width="1.11" />
<text x="901.81" y="689" font-size="11.11" text-anchor="middle" >4300</text>
<line x1="954.98" y1="669.2" x2="954.98" y2="674.06" stroke="#000" stroke-width="1.11" />
<text x="954.98" y="689" font-size="11.11" text-anchor="middle" >4350</text>
<line x1="1008.15" y1="669.2" x2="1008.15" y2="674.06" stroke="#000" stroke-width="1.11" />
<text x="1008.15" y="689" font-size="11.11" text-anchor="middle" >4400</text>
<line x1="1061.32" y1="669.2" x2="1061.32" y2="674.06" stroke="#000" stroke-width="1.11" />
<text x="1061.32" y="689" font-size="11.11" text-anchor="middle" >4450</text>
<line x1="1114.49" y1="669.2" x2="1114.49" y2="674.06" stroke="#000" stroke-width="1.11" />
<text x="1114.49" y="689" font-size="11.11" text-anchor="middle" >4500</text>
<line x1="1167.66" y1="669.2" x2="1167.66" y2="674.06" stroke="#000" stroke-width="1.11" />
<text x="1167.66" y="689" font-size="11.11" text-anchor="middle" >4550</text>
<rect x="1032.47" y="544.6" width="150" height="20.8" rx="2.8" ry="2.8" fill="#fff" fill-opacity="0.8" stroke="#ccc" stroke-opacity="0.8" stroke-width="1.1"/>
<line x1="1036.22" y1="554.3" x2="1060.31" y2="554.3" stroke="#7b5a9c" stroke-width="2.08" />
<text x="1068" y="558" font-size="11.11" text-anchor="start" >RW flap angle (deg)</text>
<text x="975.47" y="706" font-size="11.11" text-anchor="middle" >Distance along track (m)</text>
</g>
</svg>
</body></html>
